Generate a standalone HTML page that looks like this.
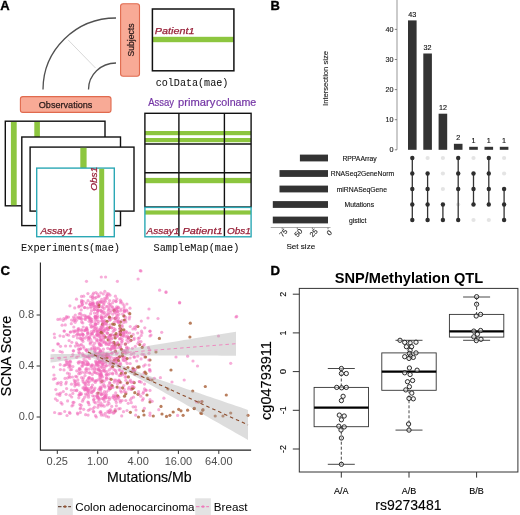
<!DOCTYPE html>
<html><head><meta charset="utf-8"><title>MultiAssayExperiment figure</title>
<style>html,body{margin:0;padding:0;background:#fff;} svg{display:block;}</style>
</head><body>
<svg width="520" height="515" viewBox="0 0 520 515">
<rect width="520" height="515" fill="#fff"/>
<text x="0.2" y="10" font-family="'Liberation Sans', Arial, sans-serif" font-weight="bold" font-size="13" stroke="#000" stroke-width="0.35">A</text>
<path d="M43 89.5 A73 71.5 0 0 1 116 18" stroke="#505050" fill="none" stroke-width="1.3"/>
<path d="M88.5 89.5 A27.5 26.5 0 0 1 116 63" stroke="#505050" fill="none" stroke-width="1.3"/>
<line x1="68" y1="39.8" x2="95.5" y2="68" stroke="#d3d3d3" stroke-width="0.9"/>
<rect x="20.4" y="96.6" width="90.6" height="15.8" rx="2.5" fill="#F8AA96" stroke="#E06A4E" stroke-width="1.1"/>
<text x="65.6" y="108" text-anchor="middle" textLength="53.6" lengthAdjust="spacingAndGlyphs" font-family="'Liberation Sans', Arial, sans-serif" font-size="9.8" fill="#2a1a1a" stroke="#2a1a1a" stroke-width="0.25">Observations</text>
<rect x="120.6" y="3.8" width="18.9" height="72.5" rx="2.5" fill="#F8AA96" stroke="#E06A4E" stroke-width="1.1"/>
<text transform="translate(133.6,40) rotate(-90)" text-anchor="middle" textLength="32.8" lengthAdjust="spacingAndGlyphs" font-family="'Liberation Sans', Arial, sans-serif" font-size="9.8" fill="#2a1a1a" stroke="#2a1a1a" stroke-width="0.25">Subjects</text>
<rect x="152.5" y="36.8" width="81.2" height="5.4" fill="#8DC63F"/>
<rect x="152.4" y="9" width="81.5" height="61.8" fill="none" stroke="#111" stroke-width="1.5"/>
<text x="154.8" y="34" textLength="39.6" lengthAdjust="spacingAndGlyphs" font-family="'Liberation Sans', Arial, sans-serif" font-style="italic" font-size="9.5" fill="#982038" stroke="#982038" stroke-width="0.25">Patient1</text>
<text x="155.7" y="86" textLength="72.6" lengthAdjust="spacingAndGlyphs" font-family="'Liberation Mono', monospace" font-size="10" fill="#111" stroke="#111" stroke-width="0.05">colData(mae)</text>
<text x="148.2" y="105.8" textLength="25.75" lengthAdjust="spacingAndGlyphs" font-family="'Liberation Sans', Arial, sans-serif" font-size="10.2" fill="#7435A5" stroke="#7435A5" stroke-width="0.2">Assay</text>
<text x="178.1" y="105.8" textLength="37.2" lengthAdjust="spacingAndGlyphs" font-family="'Liberation Sans', Arial, sans-serif" font-size="10.2" fill="#7435A5" stroke="#7435A5" stroke-width="0.2">primary</text>
<text x="216" y="105.8" textLength="40.3" lengthAdjust="spacingAndGlyphs" font-family="'Liberation Sans', Arial, sans-serif" font-size="10.2" fill="#7435A5" stroke="#7435A5" stroke-width="0.2">colname</text>
<rect x="145" y="131" width="106" height="4.2" fill="#8DC63F"/>
<rect x="145" y="138" width="106" height="4.2" fill="#8DC63F"/>
<rect x="145" y="177.9" width="106" height="5.3" fill="#8DC63F"/>
<rect x="145" y="210.4" width="106" height="4.2" fill="#8DC63F"/>
<rect x="144.9" y="113.3" width="106.2" height="93.7" fill="none" stroke="#111" stroke-width="1.4"/>
<line x1="144.9" y1="144" x2="251.1" y2="144" stroke="#111" stroke-width="1.4"/>
<line x1="144.9" y1="172.7" x2="251.1" y2="172.7" stroke="#111" stroke-width="1.4"/>
<line x1="178.9" y1="113.3" x2="178.9" y2="236.7" stroke="#111" stroke-width="1.4"/>
<line x1="224.4" y1="113.3" x2="224.4" y2="236.7" stroke="#111" stroke-width="1.4"/>
<rect x="144.9" y="207.4" width="106.2" height="29.4" fill="none" stroke="#2BA8B5" stroke-width="1.4"/>
<text x="146.5" y="234.2" textLength="32.8" lengthAdjust="spacingAndGlyphs" font-family="'Liberation Sans', Arial, sans-serif" font-style="italic" font-size="9.5" fill="#982038" stroke="#982038" stroke-width="0.25">Assay1</text>
<text x="182.4" y="234.2" textLength="40.2" lengthAdjust="spacingAndGlyphs" font-family="'Liberation Sans', Arial, sans-serif" font-style="italic" font-size="9.5" fill="#982038" stroke="#982038" stroke-width="0.25">Patient1</text>
<text x="227" y="234.2" textLength="23.9" lengthAdjust="spacingAndGlyphs" font-family="'Liberation Sans', Arial, sans-serif" font-style="italic" font-size="9.5" fill="#982038" stroke="#982038" stroke-width="0.25">Obs1</text>
<text x="153.6" y="250.8" textLength="85.7" lengthAdjust="spacingAndGlyphs" font-family="'Liberation Mono', monospace" font-size="10" fill="#111" stroke="#111" stroke-width="0.05">SampleMap(mae)</text>
<rect x="5.3" y="121.2" width="99.7" height="84.6" fill="#fff" stroke="#111" stroke-width="1.4"/>
<rect x="10.9" y="122" width="5.8" height="83.2" fill="#8DC63F"/>
<rect x="34.3" y="122" width="5.6" height="16" fill="#8DC63F"/>
<rect x="21.8" y="137" width="98.7" height="88.6" fill="#fff" stroke="#111" stroke-width="1.4"/>
<rect x="30.1" y="147.1" width="103.9" height="64" fill="#fff" stroke="#111" stroke-width="1.4"/>
<rect x="80.3" y="147.8" width="6.3" height="21" fill="#8DC63F"/>
<rect x="36.7" y="168.1" width="77.6" height="68.6" fill="#fff" stroke="#2BA8B5" stroke-width="1.4"/>
<rect x="99.2" y="168.8" width="5" height="67.2" fill="#8DC63F"/>
<text transform="translate(96.6,190.8) rotate(-90)" textLength="23.9" lengthAdjust="spacingAndGlyphs" font-family="'Liberation Sans', Arial, sans-serif" font-style="italic" font-size="9.5" fill="#982038" stroke="#982038" stroke-width="0.25">Obs1</text>
<text x="40.4" y="234.2" textLength="32.8" lengthAdjust="spacingAndGlyphs" font-family="'Liberation Sans', Arial, sans-serif" font-style="italic" font-size="9.5" fill="#982038" stroke="#982038" stroke-width="0.25">Assay1</text>
<text x="21" y="250.9" textLength="99" lengthAdjust="spacingAndGlyphs" font-family="'Liberation Mono', monospace" font-size="10" fill="#111" stroke="#111" stroke-width="0.05">Experiments(mae)</text>
<text x="270.6" y="10" font-family="'Liberation Sans', Arial, sans-serif" font-weight="bold" font-size="13" stroke="#000" stroke-width="0.35">B</text>
<line x1="397" y1="0" x2="397" y2="149.8" stroke="#a0a0a0" stroke-width="1.1"/>
<line x1="394.8" y1="149.8" x2="397" y2="149.8" stroke="#666" stroke-width="0.8"/>
<text x="393.5" y="152.3" text-anchor="end" font-family="'Liberation Sans', Arial, sans-serif" font-size="7.2" fill="#222" stroke="#222" stroke-width="0.15">0</text>
<line x1="394.8" y1="119.7" x2="397" y2="119.7" stroke="#666" stroke-width="0.8"/>
<text x="393.5" y="122.2" text-anchor="end" font-family="'Liberation Sans', Arial, sans-serif" font-size="7.2" fill="#222" stroke="#222" stroke-width="0.15">10</text>
<line x1="394.8" y1="89.6" x2="397" y2="89.6" stroke="#666" stroke-width="0.8"/>
<text x="393.5" y="92.1" text-anchor="end" font-family="'Liberation Sans', Arial, sans-serif" font-size="7.2" fill="#222" stroke="#222" stroke-width="0.15">20</text>
<line x1="394.8" y1="59.5" x2="397" y2="59.5" stroke="#666" stroke-width="0.8"/>
<text x="393.5" y="62.0" text-anchor="end" font-family="'Liberation Sans', Arial, sans-serif" font-size="7.2" fill="#222" stroke="#222" stroke-width="0.15">30</text>
<line x1="394.8" y1="29.4" x2="397" y2="29.4" stroke="#666" stroke-width="0.8"/>
<text x="393.5" y="31.9" text-anchor="end" font-family="'Liberation Sans', Arial, sans-serif" font-size="7.2" fill="#222" stroke="#222" stroke-width="0.15">40</text>
<text transform="translate(327.5,78.5) rotate(-90)" text-anchor="middle" font-family="'Liberation Sans', Arial, sans-serif" font-size="7.6" fill="#222" stroke="#222" stroke-width="0.12">Intersection size</text>
<rect x="408.0" y="20.4" width="8.6" height="129.4" fill="#333"/>
<text x="412.3" y="16.8" text-anchor="middle" font-family="'Liberation Sans', Arial, sans-serif" font-size="7.2" fill="#111" stroke="#111" stroke-width="0.15">43</text>
<rect x="423.3" y="53.5" width="8.6" height="96.3" fill="#333"/>
<text x="427.6" y="49.9" text-anchor="middle" font-family="'Liberation Sans', Arial, sans-serif" font-size="7.2" fill="#111" stroke="#111" stroke-width="0.15">32</text>
<rect x="438.6" y="113.7" width="8.6" height="36.1" fill="#333"/>
<text x="442.9" y="110.1" text-anchor="middle" font-family="'Liberation Sans', Arial, sans-serif" font-size="7.2" fill="#111" stroke="#111" stroke-width="0.15">12</text>
<rect x="453.9" y="143.8" width="8.6" height="6.0" fill="#333"/>
<text x="458.2" y="140.2" text-anchor="middle" font-family="'Liberation Sans', Arial, sans-serif" font-size="7.2" fill="#111" stroke="#111" stroke-width="0.15">2</text>
<rect x="469.2" y="146.8" width="8.6" height="3.0" fill="#333"/>
<text x="473.5" y="143.2" text-anchor="middle" font-family="'Liberation Sans', Arial, sans-serif" font-size="7.2" fill="#111" stroke="#111" stroke-width="0.15">1</text>
<rect x="484.5" y="146.8" width="8.6" height="3.0" fill="#333"/>
<text x="488.8" y="143.2" text-anchor="middle" font-family="'Liberation Sans', Arial, sans-serif" font-size="7.2" fill="#111" stroke="#111" stroke-width="0.15">1</text>
<rect x="499.8" y="146.8" width="8.6" height="3.0" fill="#333"/>
<text x="504.1" y="143.2" text-anchor="middle" font-family="'Liberation Sans', Arial, sans-serif" font-size="7.2" fill="#111" stroke="#111" stroke-width="0.15">1</text>
<line x1="412.3" y1="158" x2="412.3" y2="220" stroke="#333" stroke-width="1.3"/>
<circle cx="412.3" cy="158" r="2.2" fill="#2e2e2e"/>
<circle cx="412.3" cy="173.5" r="2.2" fill="#2e2e2e"/>
<circle cx="412.3" cy="189" r="2.2" fill="#2e2e2e"/>
<circle cx="412.3" cy="204.5" r="2.2" fill="#2e2e2e"/>
<circle cx="412.3" cy="220" r="2.2" fill="#2e2e2e"/>
<circle cx="427.6" cy="158" r="2.1" fill="#e4e4e4"/>
<line x1="427.6" y1="173.5" x2="427.6" y2="220" stroke="#333" stroke-width="1.3"/>
<circle cx="427.6" cy="173.5" r="2.2" fill="#2e2e2e"/>
<circle cx="427.6" cy="189" r="2.2" fill="#2e2e2e"/>
<circle cx="427.6" cy="204.5" r="2.2" fill="#2e2e2e"/>
<circle cx="427.6" cy="220" r="2.2" fill="#2e2e2e"/>
<circle cx="442.9" cy="158" r="2.1" fill="#e4e4e4"/>
<circle cx="442.9" cy="173.5" r="2.1" fill="#e4e4e4"/>
<circle cx="442.9" cy="189" r="2.1" fill="#e4e4e4"/>
<line x1="442.9" y1="204.5" x2="442.9" y2="220" stroke="#333" stroke-width="1.3"/>
<circle cx="442.9" cy="204.5" r="2.2" fill="#2e2e2e"/>
<circle cx="442.9" cy="220" r="2.2" fill="#2e2e2e"/>
<circle cx="458.2" cy="204.5" r="2.1" fill="#e4e4e4"/>
<line x1="458.2" y1="158" x2="458.2" y2="220" stroke="#333" stroke-width="1.3"/>
<circle cx="458.2" cy="158" r="2.2" fill="#2e2e2e"/>
<circle cx="458.2" cy="173.5" r="2.2" fill="#2e2e2e"/>
<circle cx="458.2" cy="189" r="2.2" fill="#2e2e2e"/>
<circle cx="458.2" cy="220" r="2.2" fill="#2e2e2e"/>
<circle cx="473.5" cy="158" r="2.1" fill="#e4e4e4"/>
<circle cx="473.5" cy="220" r="2.1" fill="#e4e4e4"/>
<line x1="473.5" y1="173.5" x2="473.5" y2="204.5" stroke="#333" stroke-width="1.3"/>
<circle cx="473.5" cy="173.5" r="2.2" fill="#2e2e2e"/>
<circle cx="473.5" cy="189" r="2.2" fill="#2e2e2e"/>
<circle cx="473.5" cy="204.5" r="2.2" fill="#2e2e2e"/>
<circle cx="488.8" cy="220" r="2.1" fill="#e4e4e4"/>
<line x1="488.8" y1="158" x2="488.8" y2="204.5" stroke="#333" stroke-width="1.3"/>
<circle cx="488.8" cy="158" r="2.2" fill="#2e2e2e"/>
<circle cx="488.8" cy="173.5" r="2.2" fill="#2e2e2e"/>
<circle cx="488.8" cy="189" r="2.2" fill="#2e2e2e"/>
<circle cx="488.8" cy="204.5" r="2.2" fill="#2e2e2e"/>
<circle cx="504.1" cy="158" r="2.1" fill="#e4e4e4"/>
<circle cx="504.1" cy="173.5" r="2.1" fill="#e4e4e4"/>
<line x1="504.1" y1="189" x2="504.1" y2="220" stroke="#333" stroke-width="1.3"/>
<circle cx="504.1" cy="189" r="2.2" fill="#2e2e2e"/>
<circle cx="504.1" cy="204.5" r="2.2" fill="#2e2e2e"/>
<circle cx="504.1" cy="220" r="2.2" fill="#2e2e2e"/>
<rect x="299.9" y="154.6" width="28.1" height="6.8" fill="#333"/>
<text x="359.5" y="160.6" text-anchor="middle" font-family="'Liberation Sans', Arial, sans-serif" font-size="6.8" fill="#111" stroke="#111" stroke-width="0.12">RPPAArray</text>
<rect x="279.5" y="170.1" width="48.5" height="6.8" fill="#333"/>
<text x="362.5" y="176.1" text-anchor="middle" font-family="'Liberation Sans', Arial, sans-serif" font-size="6.8" fill="#111" stroke="#111" stroke-width="0.12">RNASeq2GeneNorm</text>
<rect x="279.5" y="185.6" width="48.5" height="6.8" fill="#333"/>
<text x="361.8" y="191.6" text-anchor="middle" font-family="'Liberation Sans', Arial, sans-serif" font-size="6.8" fill="#111" stroke="#111" stroke-width="0.12">miRNASeqGene</text>
<rect x="272.8" y="201.1" width="55.2" height="6.8" fill="#333"/>
<text x="359.3" y="207.1" text-anchor="middle" font-family="'Liberation Sans', Arial, sans-serif" font-size="6.8" fill="#111" stroke="#111" stroke-width="0.12">Mutations</text>
<rect x="272.8" y="216.6" width="55.2" height="6.8" fill="#333"/>
<text x="357.6" y="222.6" text-anchor="middle" font-family="'Liberation Sans', Arial, sans-serif" font-size="6.8" fill="#111" stroke="#111" stroke-width="0.12">gistict</text>
<line x1="270.7" y1="227.5" x2="330.5" y2="227.5" stroke="#aaa" stroke-width="1.2"/>
<line x1="282.2" y1="227.5" x2="282.2" y2="229.3" stroke="#666" stroke-width="0.8"/>
<text transform="translate(285.2,234.6) rotate(-48)" text-anchor="middle" font-family="'Liberation Sans', Arial, sans-serif" font-size="7.2" fill="#222" stroke="#222" stroke-width="0.12">75</text>
<line x1="297.3" y1="227.5" x2="297.3" y2="229.3" stroke="#666" stroke-width="0.8"/>
<text transform="translate(300.3,234.6) rotate(-48)" text-anchor="middle" font-family="'Liberation Sans', Arial, sans-serif" font-size="7.2" fill="#222" stroke="#222" stroke-width="0.12">50</text>
<line x1="312.4" y1="227.5" x2="312.4" y2="229.3" stroke="#666" stroke-width="0.8"/>
<text transform="translate(315.4,234.6) rotate(-48)" text-anchor="middle" font-family="'Liberation Sans', Arial, sans-serif" font-size="7.2" fill="#222" stroke="#222" stroke-width="0.12">25</text>
<line x1="328" y1="227.5" x2="328" y2="229.3" stroke="#666" stroke-width="0.8"/>
<text transform="translate(331.0,234.6) rotate(-48)" text-anchor="middle" font-family="'Liberation Sans', Arial, sans-serif" font-size="7.2" fill="#222" stroke="#222" stroke-width="0.12">0</text>
<text x="300.8" y="249.2" text-anchor="middle" font-family="'Liberation Sans', Arial, sans-serif" font-size="8.1" fill="#111" stroke="#111" stroke-width="0.12">Set size</text>
<text x="0.4" y="275.4" font-family="'Liberation Sans', Arial, sans-serif" font-weight="bold" font-size="13.2" stroke="#000" stroke-width="0.35">C</text>
<g>
<circle cx="92.5" cy="385.0" r="1.6" fill="#F06ABA" fill-opacity="0.55"/>
<circle cx="88.4" cy="357.0" r="1.6" fill="#F06ABA" fill-opacity="0.55"/>
<circle cx="97.9" cy="353.1" r="1.6" fill="#F06ABA" fill-opacity="0.55"/>
<circle cx="69.3" cy="376.3" r="1.6" fill="#F06ABA" fill-opacity="0.55"/>
<circle cx="114.7" cy="309.3" r="1.6" fill="#F06ABA" fill-opacity="0.55"/>
<circle cx="106.5" cy="315.2" r="1.6" fill="#F06ABA" fill-opacity="0.55"/>
<circle cx="108.1" cy="401.7" r="1.6" fill="#F06ABA" fill-opacity="0.55"/>
<circle cx="102.8" cy="376.8" r="1.6" fill="#F06ABA" fill-opacity="0.55"/>
<circle cx="105.4" cy="413.3" r="1.6" fill="#F06ABA" fill-opacity="0.55"/>
<circle cx="70.4" cy="346.0" r="1.6" fill="#F06ABA" fill-opacity="0.55"/>
<circle cx="57.2" cy="383.7" r="1.6" fill="#F06ABA" fill-opacity="0.55"/>
<circle cx="166.5" cy="416.4" r="1.6" fill="#A85E35" fill-opacity="0.8"/>
<circle cx="112.8" cy="314.2" r="1.6" fill="#F06ABA" fill-opacity="0.55"/>
<circle cx="106.3" cy="360.6" r="1.6" fill="#F06ABA" fill-opacity="0.55"/>
<circle cx="120.6" cy="332.0" r="1.6" fill="#A85E35" fill-opacity="0.8"/>
<circle cx="93.0" cy="408.6" r="1.6" fill="#F06ABA" fill-opacity="0.55"/>
<circle cx="124.8" cy="351.8" r="1.6" fill="#F06ABA" fill-opacity="0.55"/>
<circle cx="79.2" cy="306.1" r="1.6" fill="#F06ABA" fill-opacity="0.55"/>
<circle cx="64.1" cy="331.0" r="1.6" fill="#F06ABA" fill-opacity="0.55"/>
<circle cx="120.0" cy="400.4" r="1.6" fill="#F06ABA" fill-opacity="0.55"/>
<circle cx="100.8" cy="344.8" r="1.6" fill="#F06ABA" fill-opacity="0.55"/>
<circle cx="96.3" cy="362.2" r="1.6" fill="#F06ABA" fill-opacity="0.55"/>
<circle cx="100.6" cy="340.3" r="1.6" fill="#F06ABA" fill-opacity="0.55"/>
<circle cx="106.3" cy="375.0" r="1.6" fill="#F06ABA" fill-opacity="0.55"/>
<circle cx="76.4" cy="342.9" r="1.6" fill="#F06ABA" fill-opacity="0.55"/>
<circle cx="100.1" cy="412.2" r="1.6" fill="#F06ABA" fill-opacity="0.55"/>
<circle cx="93.1" cy="345.5" r="1.6" fill="#F06ABA" fill-opacity="0.55"/>
<circle cx="101.0" cy="382.7" r="1.6" fill="#F06ABA" fill-opacity="0.55"/>
<circle cx="115.9" cy="380.2" r="1.6" fill="#F06ABA" fill-opacity="0.55"/>
<circle cx="115.3" cy="329.6" r="1.6" fill="#F06ABA" fill-opacity="0.55"/>
<circle cx="96.7" cy="334.6" r="1.6" fill="#F06ABA" fill-opacity="0.55"/>
<circle cx="100.0" cy="379.0" r="1.6" fill="#F06ABA" fill-opacity="0.55"/>
<circle cx="150.0" cy="331.1" r="1.6" fill="#F06ABA" fill-opacity="0.55"/>
<circle cx="86.1" cy="389.4" r="1.6" fill="#F06ABA" fill-opacity="0.55"/>
<circle cx="115.4" cy="308.9" r="1.6" fill="#F06ABA" fill-opacity="0.55"/>
<circle cx="117.7" cy="398.6" r="1.6" fill="#F06ABA" fill-opacity="0.55"/>
<circle cx="142.0" cy="333.0" r="1.6" fill="#F06ABA" fill-opacity="0.55"/>
<circle cx="124.2" cy="316.1" r="1.6" fill="#F06ABA" fill-opacity="0.55"/>
<circle cx="92.7" cy="303.7" r="1.6" fill="#F06ABA" fill-opacity="0.55"/>
<circle cx="86.8" cy="329.9" r="1.6" fill="#F06ABA" fill-opacity="0.55"/>
<circle cx="109.7" cy="378.8" r="1.6" fill="#F06ABA" fill-opacity="0.55"/>
<circle cx="171.0" cy="370.0" r="1.6" fill="#A85E35" fill-opacity="0.8"/>
<circle cx="123.6" cy="332.7" r="1.6" fill="#F06ABA" fill-opacity="0.55"/>
<circle cx="116.0" cy="397.8" r="1.6" fill="#F06ABA" fill-opacity="0.55"/>
<circle cx="120.8" cy="382.6" r="1.6" fill="#F06ABA" fill-opacity="0.55"/>
<circle cx="63.5" cy="336.4" r="1.6" fill="#F06ABA" fill-opacity="0.55"/>
<circle cx="98.2" cy="404.8" r="1.6" fill="#F06ABA" fill-opacity="0.55"/>
<circle cx="77.4" cy="344.3" r="1.6" fill="#F06ABA" fill-opacity="0.55"/>
<circle cx="121.8" cy="371.8" r="1.6" fill="#F06ABA" fill-opacity="0.55"/>
<circle cx="119.5" cy="338.9" r="1.6" fill="#F06ABA" fill-opacity="0.55"/>
<circle cx="108.5" cy="309.5" r="1.6" fill="#F06ABA" fill-opacity="0.55"/>
<circle cx="98.0" cy="362.0" r="1.6" fill="#F06ABA" fill-opacity="0.55"/>
<circle cx="104.3" cy="320.9" r="1.6" fill="#F06ABA" fill-opacity="0.55"/>
<circle cx="107.4" cy="337.9" r="1.6" fill="#F06ABA" fill-opacity="0.55"/>
<circle cx="99.5" cy="399.4" r="1.6" fill="#F06ABA" fill-opacity="0.55"/>
<circle cx="72.8" cy="393.4" r="1.6" fill="#F06ABA" fill-opacity="0.55"/>
<circle cx="134.2" cy="382.7" r="1.6" fill="#A85E35" fill-opacity="0.8"/>
<circle cx="146.0" cy="390.4" r="1.6" fill="#F06ABA" fill-opacity="0.55"/>
<circle cx="93.5" cy="411.3" r="1.6" fill="#F06ABA" fill-opacity="0.55"/>
<circle cx="99.8" cy="375.7" r="1.6" fill="#F06ABA" fill-opacity="0.55"/>
<circle cx="150.0" cy="399.7" r="1.6" fill="#F06ABA" fill-opacity="0.55"/>
<circle cx="139.5" cy="381.7" r="1.6" fill="#F06ABA" fill-opacity="0.55"/>
<circle cx="103.1" cy="393.6" r="1.6" fill="#F06ABA" fill-opacity="0.55"/>
<circle cx="100.6" cy="351.5" r="1.6" fill="#F06ABA" fill-opacity="0.55"/>
<circle cx="109.8" cy="318.7" r="1.6" fill="#F06ABA" fill-opacity="0.55"/>
<circle cx="117.5" cy="384.0" r="1.6" fill="#F06ABA" fill-opacity="0.55"/>
<circle cx="106.6" cy="391.9" r="1.6" fill="#F06ABA" fill-opacity="0.55"/>
<circle cx="143.3" cy="410.8" r="1.6" fill="#A85E35" fill-opacity="0.8"/>
<circle cx="124.2" cy="389.2" r="1.6" fill="#F06ABA" fill-opacity="0.55"/>
<circle cx="104.2" cy="335.6" r="1.6" fill="#F06ABA" fill-opacity="0.55"/>
<circle cx="127.0" cy="383.6" r="1.6" fill="#F06ABA" fill-opacity="0.55"/>
<circle cx="76.5" cy="320.3" r="1.6" fill="#F06ABA" fill-opacity="0.55"/>
<circle cx="109.5" cy="410.6" r="1.6" fill="#F06ABA" fill-opacity="0.55"/>
<circle cx="101.4" cy="394.8" r="1.6" fill="#F06ABA" fill-opacity="0.55"/>
<circle cx="80.3" cy="334.9" r="1.6" fill="#F06ABA" fill-opacity="0.55"/>
<circle cx="108.7" cy="314.3" r="1.6" fill="#F06ABA" fill-opacity="0.55"/>
<circle cx="58.4" cy="344.0" r="1.6" fill="#F06ABA" fill-opacity="0.55"/>
<circle cx="61.0" cy="384.7" r="1.6" fill="#F06ABA" fill-opacity="0.55"/>
<circle cx="107.5" cy="333.4" r="1.6" fill="#F06ABA" fill-opacity="0.55"/>
<circle cx="120.4" cy="402.2" r="1.6" fill="#F06ABA" fill-opacity="0.55"/>
<circle cx="141.0" cy="341.6" r="1.6" fill="#F06ABA" fill-opacity="0.55"/>
<circle cx="123.9" cy="360.5" r="1.6" fill="#F06ABA" fill-opacity="0.55"/>
<circle cx="80.1" cy="394.2" r="1.6" fill="#F06ABA" fill-opacity="0.55"/>
<circle cx="104.5" cy="368.5" r="1.6" fill="#F06ABA" fill-opacity="0.55"/>
<circle cx="143.1" cy="346.0" r="1.6" fill="#F06ABA" fill-opacity="0.55"/>
<circle cx="86.1" cy="360.8" r="1.6" fill="#F06ABA" fill-opacity="0.55"/>
<circle cx="99.0" cy="362.1" r="1.6" fill="#F06ABA" fill-opacity="0.55"/>
<circle cx="89.4" cy="337.7" r="1.6" fill="#F06ABA" fill-opacity="0.55"/>
<circle cx="115.7" cy="359.1" r="1.6" fill="#F06ABA" fill-opacity="0.55"/>
<circle cx="134.0" cy="387.3" r="1.6" fill="#F06ABA" fill-opacity="0.55"/>
<circle cx="97.6" cy="395.8" r="1.6" fill="#F06ABA" fill-opacity="0.55"/>
<circle cx="83.4" cy="363.1" r="1.6" fill="#F06ABA" fill-opacity="0.55"/>
<circle cx="95.4" cy="402.8" r="1.6" fill="#F06ABA" fill-opacity="0.55"/>
<circle cx="102.3" cy="318.8" r="1.6" fill="#F06ABA" fill-opacity="0.55"/>
<circle cx="101.0" cy="355.1" r="1.6" fill="#F06ABA" fill-opacity="0.55"/>
<circle cx="57.7" cy="343.9" r="1.6" fill="#F06ABA" fill-opacity="0.55"/>
<circle cx="120.6" cy="348.0" r="1.6" fill="#F06ABA" fill-opacity="0.55"/>
<circle cx="95.8" cy="354.5" r="1.6" fill="#F06ABA" fill-opacity="0.55"/>
<circle cx="104.7" cy="396.5" r="1.6" fill="#F06ABA" fill-opacity="0.55"/>
<circle cx="111.7" cy="348.4" r="1.6" fill="#F06ABA" fill-opacity="0.55"/>
<circle cx="95.5" cy="415.7" r="1.6" fill="#F06ABA" fill-opacity="0.55"/>
<circle cx="73.8" cy="320.8" r="1.6" fill="#F06ABA" fill-opacity="0.55"/>
<circle cx="86.4" cy="388.2" r="1.6" fill="#F06ABA" fill-opacity="0.55"/>
<circle cx="68.5" cy="335.2" r="1.6" fill="#F06ABA" fill-opacity="0.55"/>
<circle cx="101.2" cy="388.8" r="1.6" fill="#F06ABA" fill-opacity="0.55"/>
<circle cx="87.9" cy="402.1" r="1.6" fill="#F06ABA" fill-opacity="0.55"/>
<circle cx="97.6" cy="315.7" r="1.6" fill="#F06ABA" fill-opacity="0.55"/>
<circle cx="81.5" cy="330.7" r="1.6" fill="#F06ABA" fill-opacity="0.55"/>
<circle cx="124.7" cy="311.8" r="1.6" fill="#F06ABA" fill-opacity="0.55"/>
<circle cx="98.7" cy="355.1" r="1.6" fill="#F06ABA" fill-opacity="0.55"/>
<circle cx="80.5" cy="349.0" r="1.6" fill="#F06ABA" fill-opacity="0.55"/>
<circle cx="98.5" cy="369.9" r="1.6" fill="#F06ABA" fill-opacity="0.55"/>
<circle cx="88.8" cy="394.9" r="1.6" fill="#F06ABA" fill-opacity="0.55"/>
<circle cx="114.2" cy="360.2" r="1.6" fill="#A85E35" fill-opacity="0.8"/>
<circle cx="132.7" cy="368.1" r="1.6" fill="#F06ABA" fill-opacity="0.55"/>
<circle cx="100.2" cy="337.4" r="1.6" fill="#F06ABA" fill-opacity="0.55"/>
<circle cx="105.2" cy="396.0" r="1.6" fill="#F06ABA" fill-opacity="0.55"/>
<circle cx="92.8" cy="325.8" r="1.6" fill="#F06ABA" fill-opacity="0.55"/>
<circle cx="98.3" cy="364.8" r="1.6" fill="#F06ABA" fill-opacity="0.55"/>
<circle cx="117.9" cy="357.6" r="1.6" fill="#F06ABA" fill-opacity="0.55"/>
<circle cx="130.0" cy="381.5" r="1.6" fill="#F06ABA" fill-opacity="0.55"/>
<circle cx="105.0" cy="358.0" r="1.6" fill="#A85E35" fill-opacity="0.8"/>
<circle cx="75.8" cy="384.6" r="1.6" fill="#F06ABA" fill-opacity="0.55"/>
<circle cx="79.2" cy="349.5" r="1.6" fill="#F06ABA" fill-opacity="0.55"/>
<circle cx="100.2" cy="387.2" r="1.6" fill="#F06ABA" fill-opacity="0.55"/>
<circle cx="97.4" cy="302.9" r="1.6" fill="#F06ABA" fill-opacity="0.55"/>
<circle cx="120.3" cy="362.9" r="1.6" fill="#F06ABA" fill-opacity="0.55"/>
<circle cx="131.8" cy="388.9" r="1.6" fill="#A85E35" fill-opacity="0.8"/>
<circle cx="141.1" cy="358.9" r="1.6" fill="#F06ABA" fill-opacity="0.55"/>
<circle cx="103.4" cy="349.2" r="1.6" fill="#F06ABA" fill-opacity="0.55"/>
<circle cx="150.0" cy="415.3" r="1.6" fill="#F06ABA" fill-opacity="0.55"/>
<circle cx="112.6" cy="302.8" r="1.6" fill="#F06ABA" fill-opacity="0.55"/>
<circle cx="100.8" cy="402.9" r="1.6" fill="#F06ABA" fill-opacity="0.55"/>
<circle cx="120.2" cy="408.6" r="1.6" fill="#F06ABA" fill-opacity="0.55"/>
<circle cx="74.7" cy="307.9" r="1.6" fill="#F06ABA" fill-opacity="0.55"/>
<circle cx="103.9" cy="330.5" r="1.6" fill="#F06ABA" fill-opacity="0.55"/>
<circle cx="135.0" cy="374.5" r="1.6" fill="#F06ABA" fill-opacity="0.55"/>
<circle cx="95.3" cy="382.4" r="1.6" fill="#F06ABA" fill-opacity="0.55"/>
<circle cx="106.6" cy="354.0" r="1.6" fill="#F06ABA" fill-opacity="0.55"/>
<circle cx="117.5" cy="343.1" r="1.6" fill="#F06ABA" fill-opacity="0.55"/>
<circle cx="78.3" cy="346.0" r="1.6" fill="#F06ABA" fill-opacity="0.55"/>
<circle cx="121.7" cy="415.9" r="1.6" fill="#F06ABA" fill-opacity="0.55"/>
<circle cx="110.0" cy="324.8" r="1.6" fill="#F06ABA" fill-opacity="0.55"/>
<circle cx="91.4" cy="304.7" r="1.6" fill="#F06ABA" fill-opacity="0.55"/>
<circle cx="108.9" cy="303.3" r="1.6" fill="#F06ABA" fill-opacity="0.55"/>
<circle cx="112.7" cy="324.1" r="1.6" fill="#A85E35" fill-opacity="0.8"/>
<circle cx="86.2" cy="303.0" r="1.6" fill="#F06ABA" fill-opacity="0.55"/>
<circle cx="77.4" cy="337.9" r="1.6" fill="#F06ABA" fill-opacity="0.55"/>
<circle cx="85.0" cy="389.8" r="1.6" fill="#F06ABA" fill-opacity="0.55"/>
<circle cx="107.7" cy="348.3" r="1.6" fill="#F06ABA" fill-opacity="0.55"/>
<circle cx="92.0" cy="321.4" r="1.6" fill="#F06ABA" fill-opacity="0.55"/>
<circle cx="106.3" cy="306.6" r="1.6" fill="#F06ABA" fill-opacity="0.55"/>
<circle cx="112.4" cy="346.1" r="1.6" fill="#F06ABA" fill-opacity="0.55"/>
<circle cx="118.4" cy="318.2" r="1.6" fill="#F06ABA" fill-opacity="0.55"/>
<circle cx="109.1" cy="403.7" r="1.6" fill="#F06ABA" fill-opacity="0.55"/>
<circle cx="119.2" cy="364.3" r="1.6" fill="#F06ABA" fill-opacity="0.55"/>
<circle cx="65.6" cy="346.0" r="1.6" fill="#F06ABA" fill-opacity="0.55"/>
<circle cx="138.0" cy="394.3" r="1.6" fill="#A85E35" fill-opacity="0.8"/>
<circle cx="132.2" cy="386.6" r="1.6" fill="#F06ABA" fill-opacity="0.55"/>
<circle cx="81.2" cy="309.9" r="1.6" fill="#F06ABA" fill-opacity="0.55"/>
<circle cx="81.1" cy="318.6" r="1.6" fill="#F06ABA" fill-opacity="0.55"/>
<circle cx="128.4" cy="337.8" r="1.6" fill="#A85E35" fill-opacity="0.8"/>
<circle cx="83.2" cy="327.0" r="1.6" fill="#F06ABA" fill-opacity="0.55"/>
<circle cx="130.3" cy="399.9" r="1.6" fill="#F06ABA" fill-opacity="0.55"/>
<circle cx="107.5" cy="327.5" r="1.6" fill="#F06ABA" fill-opacity="0.55"/>
<circle cx="84.6" cy="389.8" r="1.6" fill="#F06ABA" fill-opacity="0.55"/>
<circle cx="99.4" cy="360.9" r="1.6" fill="#F06ABA" fill-opacity="0.55"/>
<circle cx="67.5" cy="373.2" r="1.6" fill="#F06ABA" fill-opacity="0.55"/>
<circle cx="126.9" cy="304.0" r="1.6" fill="#F06ABA" fill-opacity="0.55"/>
<circle cx="65.3" cy="364.9" r="1.6" fill="#F06ABA" fill-opacity="0.55"/>
<circle cx="99.7" cy="353.5" r="1.6" fill="#F06ABA" fill-opacity="0.55"/>
<circle cx="96.3" cy="309.6" r="1.6" fill="#F06ABA" fill-opacity="0.55"/>
<circle cx="105.5" cy="301.3" r="1.6" fill="#F06ABA" fill-opacity="0.55"/>
<circle cx="58.4" cy="382.8" r="1.6" fill="#F06ABA" fill-opacity="0.55"/>
<circle cx="60.4" cy="369.6" r="1.6" fill="#F06ABA" fill-opacity="0.55"/>
<circle cx="203.0" cy="409.7" r="1.6" fill="#A85E35" fill-opacity="0.8"/>
<circle cx="78.8" cy="397.8" r="1.6" fill="#F06ABA" fill-opacity="0.55"/>
<circle cx="173.2" cy="412.0" r="1.6" fill="#A85E35" fill-opacity="0.8"/>
<circle cx="120.6" cy="310.8" r="1.6" fill="#F06ABA" fill-opacity="0.55"/>
<circle cx="103.3" cy="323.1" r="1.6" fill="#F06ABA" fill-opacity="0.55"/>
<circle cx="55.4" cy="398.8" r="1.6" fill="#F06ABA" fill-opacity="0.55"/>
<circle cx="113.6" cy="395.4" r="1.6" fill="#F06ABA" fill-opacity="0.55"/>
<circle cx="150.0" cy="371.2" r="1.6" fill="#F06ABA" fill-opacity="0.55"/>
<circle cx="94.2" cy="389.5" r="1.6" fill="#F06ABA" fill-opacity="0.55"/>
<circle cx="99.0" cy="366.3" r="1.6" fill="#F06ABA" fill-opacity="0.55"/>
<circle cx="141.0" cy="376.0" r="1.6" fill="#F06ABA" fill-opacity="0.55"/>
<circle cx="100.8" cy="411.7" r="1.6" fill="#F06ABA" fill-opacity="0.55"/>
<circle cx="98.6" cy="398.6" r="1.6" fill="#F06ABA" fill-opacity="0.55"/>
<circle cx="94.3" cy="309.6" r="1.6" fill="#F06ABA" fill-opacity="0.55"/>
<circle cx="140.3" cy="270.7" r="1.6" fill="#F06ABA" fill-opacity="0.55"/>
<circle cx="124.5" cy="396.2" r="1.6" fill="#A85E35" fill-opacity="0.8"/>
<circle cx="101.9" cy="329.5" r="1.6" fill="#F06ABA" fill-opacity="0.55"/>
<circle cx="104.3" cy="300.5" r="1.6" fill="#F06ABA" fill-opacity="0.55"/>
<circle cx="120.2" cy="328.3" r="1.6" fill="#A85E35" fill-opacity="0.8"/>
<circle cx="85.1" cy="330.0" r="1.6" fill="#F06ABA" fill-opacity="0.55"/>
<circle cx="102.5" cy="404.9" r="1.6" fill="#F06ABA" fill-opacity="0.55"/>
<circle cx="87.7" cy="363.1" r="1.6" fill="#F06ABA" fill-opacity="0.55"/>
<circle cx="91.0" cy="348.9" r="1.6" fill="#F06ABA" fill-opacity="0.55"/>
<circle cx="101.7" cy="317.6" r="1.6" fill="#F06ABA" fill-opacity="0.55"/>
<circle cx="132.4" cy="348.3" r="1.6" fill="#F06ABA" fill-opacity="0.55"/>
<circle cx="100.2" cy="370.5" r="1.6" fill="#F06ABA" fill-opacity="0.55"/>
<circle cx="108.7" cy="293.9" r="1.6" fill="#F06ABA" fill-opacity="0.55"/>
<circle cx="126.6" cy="310.8" r="1.6" fill="#F06ABA" fill-opacity="0.55"/>
<circle cx="102.7" cy="342.3" r="1.6" fill="#F06ABA" fill-opacity="0.55"/>
<circle cx="86.8" cy="364.8" r="1.6" fill="#F06ABA" fill-opacity="0.55"/>
<circle cx="108.2" cy="329.4" r="1.6" fill="#F06ABA" fill-opacity="0.55"/>
<circle cx="128.2" cy="403.3" r="1.6" fill="#F06ABA" fill-opacity="0.55"/>
<circle cx="70.0" cy="413.3" r="1.6" fill="#F06ABA" fill-opacity="0.55"/>
<circle cx="144.0" cy="372.9" r="1.6" fill="#F06ABA" fill-opacity="0.55"/>
<circle cx="89.6" cy="358.5" r="1.6" fill="#F06ABA" fill-opacity="0.55"/>
<circle cx="103.2" cy="364.8" r="1.6" fill="#F06ABA" fill-opacity="0.55"/>
<circle cx="112.4" cy="386.0" r="1.6" fill="#F06ABA" fill-opacity="0.55"/>
<circle cx="94.2" cy="402.0" r="1.6" fill="#F06ABA" fill-opacity="0.55"/>
<circle cx="123.6" cy="333.9" r="1.6" fill="#F06ABA" fill-opacity="0.55"/>
<circle cx="106.1" cy="344.2" r="1.6" fill="#F06ABA" fill-opacity="0.55"/>
<circle cx="96.9" cy="313.3" r="1.6" fill="#F06ABA" fill-opacity="0.55"/>
<circle cx="123.8" cy="385.6" r="1.6" fill="#F06ABA" fill-opacity="0.55"/>
<circle cx="115.2" cy="318.3" r="1.6" fill="#A85E35" fill-opacity="0.8"/>
<circle cx="79.4" cy="368.4" r="1.6" fill="#F06ABA" fill-opacity="0.55"/>
<circle cx="97.5" cy="373.4" r="1.6" fill="#F06ABA" fill-opacity="0.55"/>
<circle cx="103.4" cy="339.2" r="1.6" fill="#F06ABA" fill-opacity="0.55"/>
<circle cx="106.5" cy="378.2" r="1.6" fill="#F06ABA" fill-opacity="0.55"/>
<circle cx="189.9" cy="337.0" r="1.6" fill="#A85E35" fill-opacity="0.8"/>
<circle cx="91.8" cy="364.8" r="1.6" fill="#F06ABA" fill-opacity="0.55"/>
<circle cx="101.0" cy="371.4" r="1.6" fill="#F06ABA" fill-opacity="0.55"/>
<circle cx="88.1" cy="415.1" r="1.6" fill="#F06ABA" fill-opacity="0.55"/>
<circle cx="123.9" cy="315.9" r="1.6" fill="#A85E35" fill-opacity="0.8"/>
<circle cx="100.6" cy="374.6" r="1.6" fill="#F06ABA" fill-opacity="0.55"/>
<circle cx="125.8" cy="400.5" r="1.6" fill="#F06ABA" fill-opacity="0.55"/>
<circle cx="177.6" cy="415.4" r="1.6" fill="#F06ABA" fill-opacity="0.55"/>
<circle cx="103.5" cy="384.3" r="1.6" fill="#F06ABA" fill-opacity="0.55"/>
<circle cx="113.4" cy="345.5" r="1.6" fill="#F06ABA" fill-opacity="0.55"/>
<circle cx="125.0" cy="357.4" r="1.6" fill="#F06ABA" fill-opacity="0.55"/>
<circle cx="123.9" cy="329.8" r="1.6" fill="#A85E35" fill-opacity="0.8"/>
<circle cx="94.0" cy="371.9" r="1.6" fill="#F06ABA" fill-opacity="0.55"/>
<circle cx="130.1" cy="358.0" r="1.6" fill="#F06ABA" fill-opacity="0.55"/>
<circle cx="83.2" cy="301.3" r="1.6" fill="#F06ABA" fill-opacity="0.55"/>
<circle cx="160.4" cy="377.7" r="1.6" fill="#F06ABA" fill-opacity="0.55"/>
<circle cx="101.9" cy="381.2" r="1.6" fill="#A85E35" fill-opacity="0.8"/>
<circle cx="81.5" cy="377.6" r="1.6" fill="#F06ABA" fill-opacity="0.55"/>
<circle cx="148.5" cy="347.7" r="1.6" fill="#F06ABA" fill-opacity="0.55"/>
<circle cx="92.2" cy="369.0" r="1.6" fill="#F06ABA" fill-opacity="0.55"/>
<circle cx="89.8" cy="373.0" r="1.6" fill="#F06ABA" fill-opacity="0.55"/>
<circle cx="105.3" cy="323.4" r="1.6" fill="#F06ABA" fill-opacity="0.55"/>
<circle cx="102.7" cy="325.2" r="1.6" fill="#F06ABA" fill-opacity="0.55"/>
<circle cx="86.1" cy="350.0" r="1.6" fill="#F06ABA" fill-opacity="0.55"/>
<circle cx="131.0" cy="340.3" r="1.6" fill="#A85E35" fill-opacity="0.8"/>
<circle cx="146.0" cy="390.0" r="1.6" fill="#F06ABA" fill-opacity="0.55"/>
<circle cx="88.2" cy="382.0" r="1.6" fill="#F06ABA" fill-opacity="0.55"/>
<circle cx="102.1" cy="386.6" r="1.6" fill="#F06ABA" fill-opacity="0.55"/>
<circle cx="79.2" cy="318.5" r="1.6" fill="#F06ABA" fill-opacity="0.55"/>
<circle cx="121.9" cy="320.7" r="1.6" fill="#F06ABA" fill-opacity="0.55"/>
<circle cx="110.9" cy="349.6" r="1.6" fill="#F06ABA" fill-opacity="0.55"/>
<circle cx="116.0" cy="301.2" r="1.6" fill="#F06ABA" fill-opacity="0.55"/>
<circle cx="105.1" cy="320.9" r="1.6" fill="#F06ABA" fill-opacity="0.55"/>
<circle cx="126.0" cy="376.8" r="1.6" fill="#F06ABA" fill-opacity="0.55"/>
<circle cx="138.6" cy="391.7" r="1.6" fill="#F06ABA" fill-opacity="0.55"/>
<circle cx="97.1" cy="335.8" r="1.6" fill="#F06ABA" fill-opacity="0.55"/>
<circle cx="84.0" cy="388.2" r="1.6" fill="#F06ABA" fill-opacity="0.55"/>
<circle cx="97.5" cy="294.1" r="1.6" fill="#F06ABA" fill-opacity="0.55"/>
<circle cx="83.3" cy="364.8" r="1.6" fill="#F06ABA" fill-opacity="0.55"/>
<circle cx="103.4" cy="321.8" r="1.6" fill="#F06ABA" fill-opacity="0.55"/>
<circle cx="115.0" cy="312.2" r="1.6" fill="#F06ABA" fill-opacity="0.55"/>
<circle cx="122.1" cy="350.1" r="1.6" fill="#F06ABA" fill-opacity="0.55"/>
<circle cx="96.0" cy="317.4" r="1.6" fill="#F06ABA" fill-opacity="0.55"/>
<circle cx="96.6" cy="369.1" r="1.6" fill="#F06ABA" fill-opacity="0.55"/>
<circle cx="93.8" cy="331.4" r="1.6" fill="#F06ABA" fill-opacity="0.55"/>
<circle cx="87.4" cy="317.4" r="1.6" fill="#F06ABA" fill-opacity="0.55"/>
<circle cx="73.0" cy="405.0" r="1.6" fill="#F06ABA" fill-opacity="0.55"/>
<circle cx="78.7" cy="373.8" r="1.6" fill="#F06ABA" fill-opacity="0.55"/>
<circle cx="90.5" cy="302.4" r="1.6" fill="#F06ABA" fill-opacity="0.55"/>
<circle cx="125.8" cy="393.8" r="1.6" fill="#A85E35" fill-opacity="0.8"/>
<circle cx="135.4" cy="329.1" r="1.6" fill="#F06ABA" fill-opacity="0.55"/>
<circle cx="84.4" cy="315.4" r="1.6" fill="#F06ABA" fill-opacity="0.55"/>
<circle cx="112.4" cy="363.6" r="1.6" fill="#F06ABA" fill-opacity="0.55"/>
<circle cx="86.4" cy="381.7" r="1.6" fill="#F06ABA" fill-opacity="0.55"/>
<circle cx="95.8" cy="372.8" r="1.6" fill="#F06ABA" fill-opacity="0.55"/>
<circle cx="105.9" cy="363.1" r="1.6" fill="#F06ABA" fill-opacity="0.55"/>
<circle cx="118.5" cy="347.6" r="1.6" fill="#F06ABA" fill-opacity="0.55"/>
<circle cx="127.4" cy="332.9" r="1.6" fill="#F06ABA" fill-opacity="0.55"/>
<circle cx="124.0" cy="308.0" r="1.6" fill="#F06ABA" fill-opacity="0.55"/>
<circle cx="116.3" cy="317.7" r="1.6" fill="#F06ABA" fill-opacity="0.55"/>
<circle cx="201.6" cy="413.5" r="1.6" fill="#A85E35" fill-opacity="0.8"/>
<circle cx="69.5" cy="373.9" r="1.6" fill="#F06ABA" fill-opacity="0.55"/>
<circle cx="87.4" cy="364.6" r="1.6" fill="#F06ABA" fill-opacity="0.55"/>
<circle cx="78.6" cy="363.2" r="1.6" fill="#F06ABA" fill-opacity="0.55"/>
<circle cx="84.7" cy="307.5" r="1.6" fill="#F06ABA" fill-opacity="0.55"/>
<circle cx="149.4" cy="369.7" r="1.6" fill="#F06ABA" fill-opacity="0.55"/>
<circle cx="116.8" cy="310.8" r="1.6" fill="#F06ABA" fill-opacity="0.55"/>
<circle cx="65.0" cy="378.4" r="1.6" fill="#F06ABA" fill-opacity="0.55"/>
<circle cx="100.5" cy="351.0" r="1.6" fill="#F06ABA" fill-opacity="0.55"/>
<circle cx="111.0" cy="334.9" r="1.6" fill="#F06ABA" fill-opacity="0.55"/>
<circle cx="59.3" cy="393.9" r="1.6" fill="#F06ABA" fill-opacity="0.55"/>
<circle cx="150.0" cy="360.0" r="1.6" fill="#A85E35" fill-opacity="0.8"/>
<circle cx="89.1" cy="404.7" r="1.6" fill="#F06ABA" fill-opacity="0.55"/>
<circle cx="98.8" cy="389.6" r="1.6" fill="#F06ABA" fill-opacity="0.55"/>
<circle cx="133.5" cy="397.2" r="1.6" fill="#F06ABA" fill-opacity="0.55"/>
<circle cx="101.0" cy="339.7" r="1.6" fill="#F06ABA" fill-opacity="0.55"/>
<circle cx="149.0" cy="309.0" r="1.6" fill="#F06ABA" fill-opacity="0.55"/>
<circle cx="74.9" cy="383.5" r="1.6" fill="#F06ABA" fill-opacity="0.55"/>
<circle cx="133.2" cy="334.4" r="1.6" fill="#F06ABA" fill-opacity="0.55"/>
<circle cx="131.3" cy="336.3" r="1.6" fill="#A85E35" fill-opacity="0.8"/>
<circle cx="90.7" cy="390.2" r="1.6" fill="#F06ABA" fill-opacity="0.55"/>
<circle cx="87.6" cy="308.0" r="1.6" fill="#F06ABA" fill-opacity="0.55"/>
<circle cx="150.0" cy="402.0" r="1.6" fill="#A85E35" fill-opacity="0.8"/>
<circle cx="115.0" cy="411.0" r="1.6" fill="#A85E35" fill-opacity="0.8"/>
<circle cx="81.5" cy="302.5" r="1.6" fill="#F06ABA" fill-opacity="0.55"/>
<circle cx="78.4" cy="317.1" r="1.6" fill="#F06ABA" fill-opacity="0.55"/>
<circle cx="78.0" cy="329.2" r="1.6" fill="#F06ABA" fill-opacity="0.55"/>
<circle cx="94.8" cy="369.8" r="1.6" fill="#F06ABA" fill-opacity="0.55"/>
<circle cx="149.1" cy="365.1" r="1.6" fill="#F06ABA" fill-opacity="0.55"/>
<circle cx="88.9" cy="316.3" r="1.6" fill="#F06ABA" fill-opacity="0.55"/>
<circle cx="88.5" cy="378.5" r="1.6" fill="#F06ABA" fill-opacity="0.55"/>
<circle cx="104.4" cy="330.3" r="1.6" fill="#F06ABA" fill-opacity="0.55"/>
<circle cx="123.1" cy="360.1" r="1.6" fill="#F06ABA" fill-opacity="0.55"/>
<circle cx="95.7" cy="318.0" r="1.6" fill="#F06ABA" fill-opacity="0.55"/>
<circle cx="85.6" cy="319.4" r="1.6" fill="#F06ABA" fill-opacity="0.55"/>
<circle cx="114.7" cy="344.1" r="1.6" fill="#F06ABA" fill-opacity="0.55"/>
<circle cx="97.7" cy="340.6" r="1.6" fill="#F06ABA" fill-opacity="0.55"/>
<circle cx="128.5" cy="337.4" r="1.6" fill="#F06ABA" fill-opacity="0.55"/>
<circle cx="114.3" cy="382.2" r="1.6" fill="#F06ABA" fill-opacity="0.55"/>
<circle cx="141.3" cy="321.1" r="1.6" fill="#F06ABA" fill-opacity="0.55"/>
<circle cx="101.5" cy="375.8" r="1.6" fill="#F06ABA" fill-opacity="0.55"/>
<circle cx="82.8" cy="322.9" r="1.6" fill="#F06ABA" fill-opacity="0.55"/>
<circle cx="131.3" cy="402.7" r="1.6" fill="#F06ABA" fill-opacity="0.55"/>
<circle cx="156.0" cy="352.0" r="1.6" fill="#A85E35" fill-opacity="0.8"/>
<circle cx="80.3" cy="412.4" r="1.6" fill="#F06ABA" fill-opacity="0.55"/>
<circle cx="230.7" cy="413.0" r="1.6" fill="#A85E35" fill-opacity="0.8"/>
<circle cx="78.0" cy="331.1" r="1.6" fill="#F06ABA" fill-opacity="0.55"/>
<circle cx="141.2" cy="335.5" r="1.6" fill="#F06ABA" fill-opacity="0.55"/>
<circle cx="123.6" cy="336.2" r="1.6" fill="#F06ABA" fill-opacity="0.55"/>
<circle cx="103.0" cy="363.5" r="1.6" fill="#F06ABA" fill-opacity="0.55"/>
<circle cx="97.9" cy="317.3" r="1.6" fill="#F06ABA" fill-opacity="0.55"/>
<circle cx="88.7" cy="392.2" r="1.6" fill="#F06ABA" fill-opacity="0.55"/>
<circle cx="86.3" cy="387.9" r="1.6" fill="#F06ABA" fill-opacity="0.55"/>
<circle cx="92.4" cy="299.5" r="1.6" fill="#F06ABA" fill-opacity="0.55"/>
<circle cx="84.1" cy="383.0" r="1.6" fill="#F06ABA" fill-opacity="0.55"/>
<circle cx="68.5" cy="317.0" r="1.6" fill="#F06ABA" fill-opacity="0.55"/>
<circle cx="85.3" cy="383.3" r="1.6" fill="#F06ABA" fill-opacity="0.55"/>
<circle cx="85.4" cy="330.5" r="1.6" fill="#F06ABA" fill-opacity="0.55"/>
<circle cx="144.6" cy="357.0" r="1.6" fill="#F06ABA" fill-opacity="0.55"/>
<circle cx="145.2" cy="364.8" r="1.6" fill="#F06ABA" fill-opacity="0.55"/>
<circle cx="120.3" cy="300.2" r="1.6" fill="#F06ABA" fill-opacity="0.55"/>
<circle cx="65.8" cy="383.8" r="1.6" fill="#F06ABA" fill-opacity="0.55"/>
<circle cx="139.7" cy="344.6" r="1.6" fill="#A85E35" fill-opacity="0.8"/>
<circle cx="92.4" cy="379.3" r="1.6" fill="#F06ABA" fill-opacity="0.55"/>
<circle cx="100.7" cy="301.6" r="1.6" fill="#F06ABA" fill-opacity="0.55"/>
<circle cx="88.5" cy="317.3" r="1.6" fill="#F06ABA" fill-opacity="0.55"/>
<circle cx="117.4" cy="281.3" r="1.6" fill="#F06ABA" fill-opacity="0.55"/>
<circle cx="125.3" cy="350.8" r="1.6" fill="#F06ABA" fill-opacity="0.55"/>
<circle cx="106.4" cy="355.2" r="1.6" fill="#A85E35" fill-opacity="0.8"/>
<circle cx="81.9" cy="315.0" r="1.6" fill="#F06ABA" fill-opacity="0.55"/>
<circle cx="82.5" cy="304.2" r="1.6" fill="#F06ABA" fill-opacity="0.55"/>
<circle cx="69.5" cy="412.4" r="1.6" fill="#F06ABA" fill-opacity="0.55"/>
<circle cx="139.3" cy="381.5" r="1.6" fill="#F06ABA" fill-opacity="0.55"/>
<circle cx="153.3" cy="416.0" r="1.6" fill="#A85E35" fill-opacity="0.8"/>
<circle cx="90.1" cy="409.2" r="1.6" fill="#F06ABA" fill-opacity="0.55"/>
<circle cx="112.4" cy="367.2" r="1.6" fill="#F06ABA" fill-opacity="0.55"/>
<circle cx="132.9" cy="329.0" r="1.6" fill="#F06ABA" fill-opacity="0.55"/>
<circle cx="95.8" cy="355.3" r="1.6" fill="#F06ABA" fill-opacity="0.55"/>
<circle cx="106.9" cy="295.8" r="1.6" fill="#F06ABA" fill-opacity="0.55"/>
<circle cx="100.3" cy="329.3" r="1.6" fill="#F06ABA" fill-opacity="0.55"/>
<circle cx="67.5" cy="378.1" r="1.6" fill="#F06ABA" fill-opacity="0.55"/>
<circle cx="134.8" cy="392.7" r="1.6" fill="#A85E35" fill-opacity="0.8"/>
<circle cx="205.3" cy="386.5" r="1.6" fill="#A85E35" fill-opacity="0.8"/>
<circle cx="59.4" cy="358.3" r="1.6" fill="#F06ABA" fill-opacity="0.55"/>
<circle cx="94.4" cy="313.1" r="1.6" fill="#F06ABA" fill-opacity="0.55"/>
<circle cx="101.4" cy="374.9" r="1.6" fill="#F06ABA" fill-opacity="0.55"/>
<circle cx="109.1" cy="317.5" r="1.6" fill="#F06ABA" fill-opacity="0.55"/>
<circle cx="118.5" cy="396.7" r="1.6" fill="#F06ABA" fill-opacity="0.55"/>
<circle cx="138.9" cy="394.0" r="1.6" fill="#F06ABA" fill-opacity="0.55"/>
<circle cx="100.4" cy="380.8" r="1.6" fill="#F06ABA" fill-opacity="0.55"/>
<circle cx="110.9" cy="349.1" r="1.6" fill="#F06ABA" fill-opacity="0.55"/>
<circle cx="104.5" cy="312.6" r="1.6" fill="#F06ABA" fill-opacity="0.55"/>
<circle cx="99.7" cy="344.0" r="1.6" fill="#F06ABA" fill-opacity="0.55"/>
<circle cx="125.2" cy="377.2" r="1.6" fill="#F06ABA" fill-opacity="0.55"/>
<circle cx="122.1" cy="325.4" r="1.6" fill="#F06ABA" fill-opacity="0.55"/>
<circle cx="82.7" cy="339.7" r="1.6" fill="#F06ABA" fill-opacity="0.55"/>
<circle cx="101.4" cy="367.1" r="1.6" fill="#F06ABA" fill-opacity="0.55"/>
<circle cx="126.0" cy="353.1" r="1.6" fill="#F06ABA" fill-opacity="0.55"/>
<circle cx="98.5" cy="321.4" r="1.6" fill="#F06ABA" fill-opacity="0.55"/>
<circle cx="150.0" cy="336.0" r="1.6" fill="#F06ABA" fill-opacity="0.55"/>
<circle cx="85.6" cy="388.4" r="1.6" fill="#F06ABA" fill-opacity="0.55"/>
<circle cx="117.0" cy="308.3" r="1.6" fill="#F06ABA" fill-opacity="0.55"/>
<circle cx="88.4" cy="410.3" r="1.6" fill="#F06ABA" fill-opacity="0.55"/>
<circle cx="103.6" cy="317.3" r="1.6" fill="#F06ABA" fill-opacity="0.55"/>
<circle cx="87.8" cy="356.2" r="1.6" fill="#F06ABA" fill-opacity="0.55"/>
<circle cx="83.1" cy="335.1" r="1.6" fill="#F06ABA" fill-opacity="0.55"/>
<circle cx="101.9" cy="364.8" r="1.6" fill="#F06ABA" fill-opacity="0.55"/>
<circle cx="144.5" cy="384.1" r="1.6" fill="#F06ABA" fill-opacity="0.55"/>
<circle cx="75.8" cy="331.2" r="1.6" fill="#F06ABA" fill-opacity="0.55"/>
<circle cx="172.0" cy="382.0" r="1.6" fill="#F06ABA" fill-opacity="0.55"/>
<circle cx="124.5" cy="310.9" r="1.6" fill="#F06ABA" fill-opacity="0.55"/>
<circle cx="110.3" cy="335.3" r="1.6" fill="#A85E35" fill-opacity="0.8"/>
<circle cx="110.2" cy="362.9" r="1.6" fill="#F06ABA" fill-opacity="0.55"/>
<circle cx="126.2" cy="359.4" r="1.6" fill="#F06ABA" fill-opacity="0.55"/>
<circle cx="94.7" cy="351.8" r="1.6" fill="#F06ABA" fill-opacity="0.55"/>
<circle cx="123.5" cy="411.7" r="1.6" fill="#F06ABA" fill-opacity="0.55"/>
<circle cx="181.0" cy="410.8" r="1.6" fill="#A85E35" fill-opacity="0.8"/>
<circle cx="96.1" cy="364.0" r="1.6" fill="#F06ABA" fill-opacity="0.55"/>
<circle cx="103.4" cy="355.3" r="1.6" fill="#F06ABA" fill-opacity="0.55"/>
<circle cx="104.8" cy="291.3" r="1.6" fill="#F06ABA" fill-opacity="0.55"/>
<circle cx="88.5" cy="397.2" r="1.6" fill="#F06ABA" fill-opacity="0.55"/>
<circle cx="93.6" cy="399.9" r="1.6" fill="#F06ABA" fill-opacity="0.55"/>
<circle cx="119.7" cy="325.6" r="1.6" fill="#A85E35" fill-opacity="0.8"/>
<circle cx="116.0" cy="371.8" r="1.6" fill="#F06ABA" fill-opacity="0.55"/>
<circle cx="97.7" cy="363.4" r="1.6" fill="#F06ABA" fill-opacity="0.55"/>
<circle cx="117.8" cy="358.5" r="1.6" fill="#F06ABA" fill-opacity="0.55"/>
<circle cx="112.9" cy="387.4" r="1.6" fill="#F06ABA" fill-opacity="0.55"/>
<circle cx="133.7" cy="353.2" r="1.6" fill="#F06ABA" fill-opacity="0.55"/>
<circle cx="98.9" cy="369.5" r="1.6" fill="#F06ABA" fill-opacity="0.55"/>
<circle cx="97.0" cy="334.5" r="1.6" fill="#F06ABA" fill-opacity="0.55"/>
<circle cx="60.0" cy="351.5" r="1.6" fill="#F06ABA" fill-opacity="0.55"/>
<circle cx="79.3" cy="313.8" r="1.6" fill="#F06ABA" fill-opacity="0.55"/>
<circle cx="137.9" cy="326.5" r="1.6" fill="#A85E35" fill-opacity="0.8"/>
<circle cx="120.9" cy="333.2" r="1.6" fill="#F06ABA" fill-opacity="0.55"/>
<circle cx="91.7" cy="380.2" r="1.6" fill="#F06ABA" fill-opacity="0.55"/>
<circle cx="122.5" cy="387.8" r="1.6" fill="#A85E35" fill-opacity="0.8"/>
<circle cx="89.4" cy="378.6" r="1.6" fill="#F06ABA" fill-opacity="0.55"/>
<circle cx="101.7" cy="299.4" r="1.6" fill="#F06ABA" fill-opacity="0.55"/>
<circle cx="71.5" cy="384.2" r="1.6" fill="#F06ABA" fill-opacity="0.55"/>
<circle cx="81.7" cy="301.7" r="1.6" fill="#F06ABA" fill-opacity="0.55"/>
<circle cx="63.3" cy="391.5" r="1.6" fill="#F06ABA" fill-opacity="0.55"/>
<circle cx="83.3" cy="346.3" r="1.6" fill="#F06ABA" fill-opacity="0.55"/>
<circle cx="97.4" cy="365.4" r="1.6" fill="#F06ABA" fill-opacity="0.55"/>
<circle cx="129.8" cy="333.0" r="1.6" fill="#F06ABA" fill-opacity="0.55"/>
<circle cx="100.2" cy="361.1" r="1.6" fill="#F06ABA" fill-opacity="0.55"/>
<circle cx="133.3" cy="382.0" r="1.6" fill="#F06ABA" fill-opacity="0.55"/>
<circle cx="113.9" cy="343.4" r="1.6" fill="#F06ABA" fill-opacity="0.55"/>
<circle cx="66.1" cy="360.2" r="1.6" fill="#F06ABA" fill-opacity="0.55"/>
<circle cx="126.0" cy="392.1" r="1.6" fill="#F06ABA" fill-opacity="0.55"/>
<circle cx="113.2" cy="361.1" r="1.6" fill="#F06ABA" fill-opacity="0.55"/>
<circle cx="67.4" cy="362.3" r="1.6" fill="#F06ABA" fill-opacity="0.55"/>
<circle cx="236.0" cy="317.0" r="1.6" fill="#F06ABA" fill-opacity="0.55"/>
<circle cx="136.7" cy="361.0" r="1.6" fill="#F06ABA" fill-opacity="0.55"/>
<circle cx="77.8" cy="334.3" r="1.6" fill="#F06ABA" fill-opacity="0.55"/>
<circle cx="80.1" cy="408.8" r="1.6" fill="#F06ABA" fill-opacity="0.55"/>
<circle cx="151.0" cy="335.0" r="1.6" fill="#F06ABA" fill-opacity="0.55"/>
<circle cx="236.7" cy="316.4" r="1.6" fill="#F06ABA" fill-opacity="0.55"/>
<circle cx="99.4" cy="307.0" r="1.6" fill="#F06ABA" fill-opacity="0.55"/>
<circle cx="103.3" cy="293.9" r="1.6" fill="#F06ABA" fill-opacity="0.55"/>
<circle cx="87.7" cy="393.0" r="1.6" fill="#F06ABA" fill-opacity="0.55"/>
<circle cx="107.1" cy="321.3" r="1.6" fill="#A85E35" fill-opacity="0.8"/>
<circle cx="79.9" cy="392.6" r="1.6" fill="#F06ABA" fill-opacity="0.55"/>
<circle cx="105.4" cy="397.4" r="1.6" fill="#F06ABA" fill-opacity="0.55"/>
<circle cx="104.6" cy="298.3" r="1.6" fill="#F06ABA" fill-opacity="0.55"/>
<circle cx="53.5" cy="367.0" r="1.6" fill="#F06ABA" fill-opacity="0.55"/>
<circle cx="69.9" cy="365.5" r="1.6" fill="#F06ABA" fill-opacity="0.55"/>
<circle cx="112.2" cy="334.6" r="1.6" fill="#F06ABA" fill-opacity="0.55"/>
<circle cx="66.1" cy="394.3" r="1.6" fill="#F06ABA" fill-opacity="0.55"/>
<circle cx="141.2" cy="382.2" r="1.6" fill="#F06ABA" fill-opacity="0.55"/>
<circle cx="90.6" cy="339.3" r="1.6" fill="#F06ABA" fill-opacity="0.55"/>
<circle cx="83.9" cy="359.0" r="1.6" fill="#F06ABA" fill-opacity="0.55"/>
<circle cx="92.0" cy="341.9" r="1.6" fill="#F06ABA" fill-opacity="0.55"/>
<circle cx="98.3" cy="310.2" r="1.6" fill="#F06ABA" fill-opacity="0.55"/>
<circle cx="110.5" cy="360.1" r="1.6" fill="#F06ABA" fill-opacity="0.55"/>
<circle cx="144.0" cy="415.0" r="1.6" fill="#A85E35" fill-opacity="0.8"/>
<circle cx="201.4" cy="401.5" r="1.6" fill="#F06ABA" fill-opacity="0.55"/>
<circle cx="71.3" cy="323.7" r="1.6" fill="#F06ABA" fill-opacity="0.55"/>
<circle cx="85.3" cy="364.2" r="1.6" fill="#F06ABA" fill-opacity="0.55"/>
<circle cx="138.1" cy="279.0" r="1.6" fill="#F06ABA" fill-opacity="0.55"/>
<circle cx="94.9" cy="323.1" r="1.6" fill="#F06ABA" fill-opacity="0.55"/>
<circle cx="66.5" cy="364.5" r="1.6" fill="#F06ABA" fill-opacity="0.55"/>
<circle cx="93.2" cy="391.1" r="1.6" fill="#F06ABA" fill-opacity="0.55"/>
<circle cx="109.7" cy="327.5" r="1.6" fill="#A85E35" fill-opacity="0.8"/>
<circle cx="88.4" cy="364.5" r="1.6" fill="#F06ABA" fill-opacity="0.55"/>
<circle cx="82.5" cy="353.7" r="1.6" fill="#F06ABA" fill-opacity="0.55"/>
<circle cx="95.9" cy="292.6" r="1.6" fill="#F06ABA" fill-opacity="0.55"/>
<circle cx="88.6" cy="384.6" r="1.6" fill="#F06ABA" fill-opacity="0.55"/>
<circle cx="66.6" cy="388.6" r="1.6" fill="#F06ABA" fill-opacity="0.55"/>
<circle cx="113.6" cy="309.3" r="1.6" fill="#F06ABA" fill-opacity="0.55"/>
<circle cx="193.0" cy="361.0" r="1.6" fill="#F06ABA" fill-opacity="0.55"/>
<circle cx="82.2" cy="366.5" r="1.6" fill="#F06ABA" fill-opacity="0.55"/>
<circle cx="62.2" cy="352.2" r="1.6" fill="#F06ABA" fill-opacity="0.55"/>
<circle cx="103.7" cy="399.4" r="1.6" fill="#F06ABA" fill-opacity="0.55"/>
<circle cx="77.1" cy="384.5" r="1.6" fill="#F06ABA" fill-opacity="0.55"/>
<circle cx="110.3" cy="304.3" r="1.6" fill="#F06ABA" fill-opacity="0.55"/>
<circle cx="93.8" cy="331.1" r="1.6" fill="#F06ABA" fill-opacity="0.55"/>
<circle cx="93.3" cy="305.9" r="1.6" fill="#F06ABA" fill-opacity="0.55"/>
<circle cx="111.6" cy="411.7" r="1.6" fill="#F06ABA" fill-opacity="0.55"/>
<circle cx="92.9" cy="297.3" r="1.6" fill="#F06ABA" fill-opacity="0.55"/>
<circle cx="139.4" cy="337.8" r="1.6" fill="#F06ABA" fill-opacity="0.55"/>
<circle cx="127.0" cy="410.5" r="1.6" fill="#F06ABA" fill-opacity="0.55"/>
<circle cx="87.2" cy="351.4" r="1.6" fill="#F06ABA" fill-opacity="0.55"/>
<circle cx="131.1" cy="389.5" r="1.6" fill="#F06ABA" fill-opacity="0.55"/>
<circle cx="117.5" cy="395.8" r="1.6" fill="#A85E35" fill-opacity="0.8"/>
<circle cx="86.2" cy="350.3" r="1.6" fill="#F06ABA" fill-opacity="0.55"/>
<circle cx="120.0" cy="381.9" r="1.6" fill="#A85E35" fill-opacity="0.8"/>
<circle cx="86.9" cy="349.7" r="1.6" fill="#F06ABA" fill-opacity="0.55"/>
<circle cx="90.9" cy="334.4" r="1.6" fill="#F06ABA" fill-opacity="0.55"/>
<circle cx="76.6" cy="317.8" r="1.6" fill="#F06ABA" fill-opacity="0.55"/>
<circle cx="91.4" cy="331.5" r="1.6" fill="#F06ABA" fill-opacity="0.55"/>
<circle cx="92.8" cy="294.6" r="1.6" fill="#F06ABA" fill-opacity="0.55"/>
<circle cx="125.4" cy="320.1" r="1.6" fill="#F06ABA" fill-opacity="0.55"/>
<circle cx="125.0" cy="353.1" r="1.6" fill="#F06ABA" fill-opacity="0.55"/>
<circle cx="101.3" cy="326.4" r="1.6" fill="#F06ABA" fill-opacity="0.55"/>
<circle cx="90.7" cy="307.8" r="1.6" fill="#F06ABA" fill-opacity="0.55"/>
<circle cx="92.3" cy="333.7" r="1.6" fill="#F06ABA" fill-opacity="0.55"/>
<circle cx="88.2" cy="390.6" r="1.6" fill="#F06ABA" fill-opacity="0.55"/>
<circle cx="72.4" cy="377.0" r="1.6" fill="#F06ABA" fill-opacity="0.55"/>
<circle cx="150.0" cy="390.4" r="1.6" fill="#F06ABA" fill-opacity="0.55"/>
<circle cx="91.1" cy="326.9" r="1.6" fill="#F06ABA" fill-opacity="0.55"/>
<circle cx="98.9" cy="343.1" r="1.6" fill="#F06ABA" fill-opacity="0.55"/>
<circle cx="91.7" cy="366.2" r="1.6" fill="#F06ABA" fill-opacity="0.55"/>
<circle cx="104.5" cy="391.5" r="1.6" fill="#F06ABA" fill-opacity="0.55"/>
<circle cx="111.1" cy="339.2" r="1.6" fill="#F06ABA" fill-opacity="0.55"/>
<circle cx="87.8" cy="332.3" r="1.6" fill="#F06ABA" fill-opacity="0.55"/>
<circle cx="90.4" cy="319.4" r="1.6" fill="#F06ABA" fill-opacity="0.55"/>
<circle cx="124.5" cy="368.2" r="1.6" fill="#F06ABA" fill-opacity="0.55"/>
<circle cx="69.3" cy="361.9" r="1.6" fill="#F06ABA" fill-opacity="0.55"/>
<circle cx="66.3" cy="382.1" r="1.6" fill="#F06ABA" fill-opacity="0.55"/>
<circle cx="81.6" cy="300.4" r="1.6" fill="#F06ABA" fill-opacity="0.55"/>
<circle cx="158.8" cy="409.7" r="1.6" fill="#F06ABA" fill-opacity="0.55"/>
<circle cx="79.5" cy="353.2" r="1.6" fill="#F06ABA" fill-opacity="0.55"/>
<circle cx="119.5" cy="331.6" r="1.6" fill="#F06ABA" fill-opacity="0.55"/>
<circle cx="104.3" cy="308.6" r="1.6" fill="#F06ABA" fill-opacity="0.55"/>
<circle cx="69.9" cy="305.8" r="1.6" fill="#F06ABA" fill-opacity="0.55"/>
<circle cx="127.4" cy="382.8" r="1.6" fill="#A85E35" fill-opacity="0.8"/>
<circle cx="101.2" cy="373.7" r="1.6" fill="#F06ABA" fill-opacity="0.55"/>
<circle cx="126.3" cy="336.9" r="1.6" fill="#F06ABA" fill-opacity="0.55"/>
<circle cx="99.0" cy="374.1" r="1.6" fill="#F06ABA" fill-opacity="0.55"/>
<circle cx="113.9" cy="369.5" r="1.6" fill="#F06ABA" fill-opacity="0.55"/>
<circle cx="124.3" cy="320.0" r="1.6" fill="#A85E35" fill-opacity="0.8"/>
<circle cx="123.6" cy="322.5" r="1.6" fill="#F06ABA" fill-opacity="0.55"/>
<circle cx="110.2" cy="388.7" r="1.6" fill="#A85E35" fill-opacity="0.8"/>
<circle cx="85.5" cy="394.0" r="1.6" fill="#F06ABA" fill-opacity="0.55"/>
<circle cx="161.7" cy="332.3" r="1.6" fill="#F06ABA" fill-opacity="0.55"/>
<circle cx="112.1" cy="306.6" r="1.6" fill="#F06ABA" fill-opacity="0.55"/>
<circle cx="109.6" cy="399.3" r="1.6" fill="#F06ABA" fill-opacity="0.55"/>
<circle cx="121.3" cy="392.1" r="1.6" fill="#F06ABA" fill-opacity="0.55"/>
<circle cx="84.1" cy="355.3" r="1.6" fill="#F06ABA" fill-opacity="0.55"/>
<circle cx="113.7" cy="300.5" r="1.6" fill="#F06ABA" fill-opacity="0.55"/>
<circle cx="101.4" cy="317.0" r="1.6" fill="#F06ABA" fill-opacity="0.55"/>
<circle cx="187.6" cy="410.2" r="1.6" fill="#A85E35" fill-opacity="0.8"/>
<circle cx="97.4" cy="331.7" r="1.6" fill="#F06ABA" fill-opacity="0.55"/>
<circle cx="120.2" cy="356.1" r="1.6" fill="#F06ABA" fill-opacity="0.55"/>
<circle cx="101.8" cy="360.5" r="1.6" fill="#F06ABA" fill-opacity="0.55"/>
<circle cx="97.1" cy="348.1" r="1.6" fill="#F06ABA" fill-opacity="0.55"/>
<circle cx="95.8" cy="349.8" r="1.6" fill="#F06ABA" fill-opacity="0.55"/>
<circle cx="60.2" cy="319.2" r="1.6" fill="#F06ABA" fill-opacity="0.55"/>
<circle cx="111.7" cy="327.6" r="1.6" fill="#F06ABA" fill-opacity="0.55"/>
<circle cx="93.8" cy="390.8" r="1.6" fill="#F06ABA" fill-opacity="0.55"/>
<circle cx="138.7" cy="341.6" r="1.6" fill="#F06ABA" fill-opacity="0.55"/>
<circle cx="112.6" cy="373.2" r="1.6" fill="#F06ABA" fill-opacity="0.55"/>
<circle cx="109.9" cy="295.2" r="1.6" fill="#F06ABA" fill-opacity="0.55"/>
<circle cx="73.6" cy="350.8" r="1.6" fill="#F06ABA" fill-opacity="0.55"/>
<circle cx="97.7" cy="311.9" r="1.6" fill="#F06ABA" fill-opacity="0.55"/>
<circle cx="97.8" cy="355.2" r="1.6" fill="#F06ABA" fill-opacity="0.55"/>
<circle cx="131.6" cy="382.5" r="1.6" fill="#F06ABA" fill-opacity="0.55"/>
<circle cx="86.9" cy="336.2" r="1.6" fill="#F06ABA" fill-opacity="0.55"/>
<circle cx="178.7" cy="409.3" r="1.6" fill="#A85E35" fill-opacity="0.8"/>
<circle cx="83.0" cy="334.6" r="1.6" fill="#F06ABA" fill-opacity="0.55"/>
<circle cx="82.5" cy="401.2" r="1.6" fill="#F06ABA" fill-opacity="0.55"/>
<circle cx="101.2" cy="317.6" r="1.6" fill="#F06ABA" fill-opacity="0.55"/>
<circle cx="117.1" cy="387.1" r="1.6" fill="#A85E35" fill-opacity="0.8"/>
<circle cx="96.9" cy="332.0" r="1.6" fill="#F06ABA" fill-opacity="0.55"/>
<circle cx="115.4" cy="370.4" r="1.6" fill="#F06ABA" fill-opacity="0.55"/>
<circle cx="92.7" cy="365.0" r="1.6" fill="#F06ABA" fill-opacity="0.55"/>
<circle cx="101.5" cy="345.4" r="1.6" fill="#F06ABA" fill-opacity="0.55"/>
<circle cx="94.2" cy="309.7" r="1.6" fill="#F06ABA" fill-opacity="0.55"/>
<circle cx="147.0" cy="395.0" r="1.6" fill="#A85E35" fill-opacity="0.8"/>
<circle cx="91.5" cy="310.8" r="1.6" fill="#F06ABA" fill-opacity="0.55"/>
<circle cx="118.1" cy="358.4" r="1.6" fill="#F06ABA" fill-opacity="0.55"/>
<circle cx="99.1" cy="370.3" r="1.6" fill="#F06ABA" fill-opacity="0.55"/>
<circle cx="91.3" cy="322.1" r="1.6" fill="#F06ABA" fill-opacity="0.55"/>
<circle cx="57.9" cy="319.4" r="1.6" fill="#F06ABA" fill-opacity="0.55"/>
<circle cx="115.3" cy="319.2" r="1.6" fill="#F06ABA" fill-opacity="0.55"/>
<circle cx="105.2" cy="337.1" r="1.6" fill="#A85E35" fill-opacity="0.8"/>
<circle cx="135.7" cy="415.2" r="1.6" fill="#F06ABA" fill-opacity="0.55"/>
<circle cx="71.6" cy="320.1" r="1.6" fill="#F06ABA" fill-opacity="0.55"/>
<circle cx="145.0" cy="372.0" r="1.6" fill="#A85E35" fill-opacity="0.8"/>
<circle cx="161.0" cy="406.4" r="1.6" fill="#A85E35" fill-opacity="0.8"/>
<circle cx="115.4" cy="345.2" r="1.6" fill="#A85E35" fill-opacity="0.8"/>
<circle cx="107.3" cy="328.0" r="1.6" fill="#F06ABA" fill-opacity="0.55"/>
<circle cx="107.8" cy="411.4" r="1.6" fill="#F06ABA" fill-opacity="0.55"/>
<circle cx="113.6" cy="347.9" r="1.6" fill="#F06ABA" fill-opacity="0.55"/>
<circle cx="86.6" cy="368.5" r="1.6" fill="#F06ABA" fill-opacity="0.55"/>
<circle cx="89.5" cy="377.5" r="1.6" fill="#F06ABA" fill-opacity="0.55"/>
<circle cx="98.1" cy="335.4" r="1.6" fill="#F06ABA" fill-opacity="0.55"/>
<circle cx="143.6" cy="391.9" r="1.6" fill="#F06ABA" fill-opacity="0.55"/>
<circle cx="108.2" cy="339.9" r="1.6" fill="#A85E35" fill-opacity="0.8"/>
<circle cx="114.3" cy="380.1" r="1.6" fill="#F06ABA" fill-opacity="0.55"/>
<circle cx="87.3" cy="380.0" r="1.6" fill="#F06ABA" fill-opacity="0.55"/>
<circle cx="103.3" cy="358.9" r="1.6" fill="#F06ABA" fill-opacity="0.55"/>
<circle cx="103.7" cy="337.6" r="1.6" fill="#F06ABA" fill-opacity="0.55"/>
<circle cx="148.8" cy="360.0" r="1.6" fill="#F06ABA" fill-opacity="0.55"/>
<circle cx="84.7" cy="318.8" r="1.6" fill="#F06ABA" fill-opacity="0.55"/>
<circle cx="62.1" cy="325.2" r="1.6" fill="#F06ABA" fill-opacity="0.55"/>
<circle cx="94.1" cy="327.0" r="1.6" fill="#F06ABA" fill-opacity="0.55"/>
<circle cx="102.5" cy="324.2" r="1.6" fill="#A85E35" fill-opacity="0.8"/>
<circle cx="103.6" cy="370.1" r="1.6" fill="#F06ABA" fill-opacity="0.55"/>
<circle cx="70.2" cy="366.7" r="1.6" fill="#F06ABA" fill-opacity="0.55"/>
<circle cx="119.5" cy="356.8" r="1.6" fill="#A85E35" fill-opacity="0.8"/>
<circle cx="104.1" cy="341.6" r="1.6" fill="#F06ABA" fill-opacity="0.55"/>
<circle cx="94.5" cy="407.1" r="1.6" fill="#F06ABA" fill-opacity="0.55"/>
<circle cx="110.1" cy="319.7" r="1.6" fill="#F06ABA" fill-opacity="0.55"/>
<circle cx="108.3" cy="336.9" r="1.6" fill="#F06ABA" fill-opacity="0.55"/>
<circle cx="78.6" cy="330.2" r="1.6" fill="#F06ABA" fill-opacity="0.55"/>
<circle cx="198.6" cy="402.0" r="1.6" fill="#A85E35" fill-opacity="0.8"/>
<circle cx="154.4" cy="378.3" r="1.6" fill="#F06ABA" fill-opacity="0.55"/>
<circle cx="103.0" cy="301.9" r="1.6" fill="#F06ABA" fill-opacity="0.55"/>
<circle cx="114.7" cy="346.6" r="1.6" fill="#F06ABA" fill-opacity="0.55"/>
<circle cx="120.5" cy="375.4" r="1.6" fill="#F06ABA" fill-opacity="0.55"/>
<circle cx="115.4" cy="296.2" r="1.6" fill="#F06ABA" fill-opacity="0.55"/>
<circle cx="74.0" cy="332.1" r="1.6" fill="#F06ABA" fill-opacity="0.55"/>
<circle cx="121.2" cy="335.4" r="1.6" fill="#F06ABA" fill-opacity="0.55"/>
<circle cx="71.7" cy="397.0" r="1.6" fill="#F06ABA" fill-opacity="0.55"/>
<circle cx="74.2" cy="380.1" r="1.6" fill="#F06ABA" fill-opacity="0.55"/>
<circle cx="59.1" cy="413.7" r="1.6" fill="#F06ABA" fill-opacity="0.55"/>
<circle cx="116.3" cy="402.4" r="1.6" fill="#F06ABA" fill-opacity="0.55"/>
<circle cx="107.4" cy="298.1" r="1.6" fill="#F06ABA" fill-opacity="0.55"/>
<circle cx="124.2" cy="310.3" r="1.6" fill="#F06ABA" fill-opacity="0.55"/>
<circle cx="95.1" cy="306.7" r="1.6" fill="#F06ABA" fill-opacity="0.55"/>
<circle cx="89.7" cy="304.3" r="1.6" fill="#F06ABA" fill-opacity="0.55"/>
<circle cx="127.6" cy="352.3" r="1.6" fill="#F06ABA" fill-opacity="0.55"/>
<circle cx="103.0" cy="311.2" r="1.6" fill="#F06ABA" fill-opacity="0.55"/>
<circle cx="128.7" cy="312.8" r="1.6" fill="#F06ABA" fill-opacity="0.55"/>
<circle cx="110.0" cy="412.4" r="1.6" fill="#F06ABA" fill-opacity="0.55"/>
<circle cx="74.9" cy="381.9" r="1.6" fill="#F06ABA" fill-opacity="0.55"/>
<circle cx="87.9" cy="293.6" r="1.6" fill="#F06ABA" fill-opacity="0.55"/>
<circle cx="117.9" cy="321.8" r="1.6" fill="#F06ABA" fill-opacity="0.55"/>
<circle cx="92.3" cy="374.4" r="1.6" fill="#F06ABA" fill-opacity="0.55"/>
<circle cx="100.0" cy="349.9" r="1.6" fill="#F06ABA" fill-opacity="0.55"/>
<circle cx="117.6" cy="315.5" r="1.6" fill="#F06ABA" fill-opacity="0.55"/>
<circle cx="96.3" cy="417.0" r="1.6" fill="#F06ABA" fill-opacity="0.55"/>
<circle cx="105.4" cy="316.5" r="1.6" fill="#F06ABA" fill-opacity="0.55"/>
<circle cx="102.2" cy="333.1" r="1.6" fill="#A85E35" fill-opacity="0.8"/>
<circle cx="86.4" cy="329.4" r="1.6" fill="#F06ABA" fill-opacity="0.55"/>
<circle cx="110.0" cy="349.0" r="1.6" fill="#F06ABA" fill-opacity="0.55"/>
<circle cx="128.4" cy="348.0" r="1.6" fill="#F06ABA" fill-opacity="0.55"/>
<circle cx="103.2" cy="327.7" r="1.6" fill="#F06ABA" fill-opacity="0.55"/>
<circle cx="85.6" cy="356.8" r="1.6" fill="#F06ABA" fill-opacity="0.55"/>
<circle cx="80.2" cy="373.6" r="1.6" fill="#F06ABA" fill-opacity="0.55"/>
<circle cx="138.2" cy="338.4" r="1.6" fill="#F06ABA" fill-opacity="0.55"/>
<circle cx="99.3" cy="329.5" r="1.6" fill="#F06ABA" fill-opacity="0.55"/>
<circle cx="98.3" cy="296.6" r="1.6" fill="#F06ABA" fill-opacity="0.55"/>
<circle cx="76.5" cy="299.2" r="1.6" fill="#F06ABA" fill-opacity="0.55"/>
<circle cx="83.4" cy="377.9" r="1.6" fill="#F06ABA" fill-opacity="0.55"/>
<circle cx="94.0" cy="399.3" r="1.6" fill="#F06ABA" fill-opacity="0.55"/>
<circle cx="83.1" cy="381.7" r="1.6" fill="#F06ABA" fill-opacity="0.55"/>
<circle cx="166.0" cy="291.8" r="1.6" fill="#F06ABA" fill-opacity="0.55"/>
<circle cx="87.8" cy="389.6" r="1.6" fill="#F06ABA" fill-opacity="0.55"/>
<circle cx="111.1" cy="368.1" r="1.6" fill="#F06ABA" fill-opacity="0.55"/>
<circle cx="109.0" cy="355.8" r="1.6" fill="#F06ABA" fill-opacity="0.55"/>
<circle cx="135.3" cy="369.4" r="1.6" fill="#F06ABA" fill-opacity="0.55"/>
<circle cx="124.3" cy="374.2" r="1.6" fill="#F06ABA" fill-opacity="0.55"/>
<circle cx="109.5" cy="357.9" r="1.6" fill="#F06ABA" fill-opacity="0.55"/>
<circle cx="136.0" cy="410.0" r="1.6" fill="#F06ABA" fill-opacity="0.55"/>
<circle cx="66.5" cy="316.5" r="1.6" fill="#F06ABA" fill-opacity="0.55"/>
<circle cx="117.5" cy="336.1" r="1.6" fill="#F06ABA" fill-opacity="0.55"/>
<circle cx="102.8" cy="307.6" r="1.6" fill="#F06ABA" fill-opacity="0.55"/>
<circle cx="152.0" cy="380.0" r="1.6" fill="#A85E35" fill-opacity="0.8"/>
<circle cx="106.6" cy="324.4" r="1.6" fill="#F06ABA" fill-opacity="0.55"/>
<circle cx="120.4" cy="322.1" r="1.6" fill="#A85E35" fill-opacity="0.8"/>
<circle cx="117.9" cy="358.3" r="1.6" fill="#F06ABA" fill-opacity="0.55"/>
<circle cx="127.0" cy="340.2" r="1.6" fill="#F06ABA" fill-opacity="0.55"/>
<circle cx="105.3" cy="398.2" r="1.6" fill="#F06ABA" fill-opacity="0.55"/>
<circle cx="99.7" cy="345.5" r="1.6" fill="#F06ABA" fill-opacity="0.55"/>
<circle cx="91.9" cy="319.4" r="1.6" fill="#F06ABA" fill-opacity="0.55"/>
<circle cx="95.1" cy="316.3" r="1.6" fill="#F06ABA" fill-opacity="0.55"/>
<circle cx="114.3" cy="322.1" r="1.6" fill="#F06ABA" fill-opacity="0.55"/>
<circle cx="93.6" cy="304.7" r="1.6" fill="#F06ABA" fill-opacity="0.55"/>
<circle cx="122.4" cy="352.9" r="1.6" fill="#A85E35" fill-opacity="0.8"/>
<circle cx="184.2" cy="380.0" r="1.6" fill="#F06ABA" fill-opacity="0.55"/>
<circle cx="94.9" cy="388.0" r="1.6" fill="#F06ABA" fill-opacity="0.55"/>
<circle cx="194.2" cy="408.6" r="1.6" fill="#A85E35" fill-opacity="0.8"/>
<circle cx="87.5" cy="329.9" r="1.6" fill="#F06ABA" fill-opacity="0.55"/>
<circle cx="100.0" cy="334.6" r="1.6" fill="#F06ABA" fill-opacity="0.55"/>
<circle cx="111.7" cy="353.2" r="1.6" fill="#F06ABA" fill-opacity="0.55"/>
<circle cx="91.3" cy="392.6" r="1.6" fill="#F06ABA" fill-opacity="0.55"/>
<circle cx="107.7" cy="354.1" r="1.6" fill="#F06ABA" fill-opacity="0.55"/>
<circle cx="150.0" cy="369.9" r="1.6" fill="#F06ABA" fill-opacity="0.55"/>
<circle cx="117.6" cy="311.6" r="1.6" fill="#F06ABA" fill-opacity="0.55"/>
<circle cx="70.5" cy="332.0" r="1.6" fill="#F06ABA" fill-opacity="0.55"/>
<circle cx="166.0" cy="292.5" r="1.6" fill="#F06ABA" fill-opacity="0.55"/>
<circle cx="134.0" cy="339.5" r="1.6" fill="#F06ABA" fill-opacity="0.55"/>
<circle cx="115.6" cy="358.0" r="1.6" fill="#F06ABA" fill-opacity="0.55"/>
<circle cx="134.1" cy="371.5" r="1.6" fill="#A85E35" fill-opacity="0.8"/>
<circle cx="85.9" cy="369.2" r="1.6" fill="#F06ABA" fill-opacity="0.55"/>
<circle cx="159.4" cy="338.4" r="1.6" fill="#A85E35" fill-opacity="0.8"/>
<circle cx="110.0" cy="383.4" r="1.6" fill="#F06ABA" fill-opacity="0.55"/>
<circle cx="142.2" cy="347.4" r="1.6" fill="#A85E35" fill-opacity="0.8"/>
<circle cx="55.8" cy="389.6" r="1.6" fill="#F06ABA" fill-opacity="0.55"/>
<circle cx="107.1" cy="357.4" r="1.6" fill="#F06ABA" fill-opacity="0.55"/>
<circle cx="116.6" cy="314.6" r="1.6" fill="#F06ABA" fill-opacity="0.55"/>
<circle cx="72.8" cy="354.5" r="1.6" fill="#F06ABA" fill-opacity="0.55"/>
<circle cx="91.5" cy="387.3" r="1.6" fill="#F06ABA" fill-opacity="0.55"/>
<circle cx="81.2" cy="405.3" r="1.6" fill="#F06ABA" fill-opacity="0.55"/>
<circle cx="76.8" cy="376.8" r="1.6" fill="#F06ABA" fill-opacity="0.55"/>
<circle cx="110.3" cy="312.5" r="1.6" fill="#F06ABA" fill-opacity="0.55"/>
<circle cx="149.7" cy="349.9" r="1.6" fill="#F06ABA" fill-opacity="0.55"/>
<circle cx="109.8" cy="320.2" r="1.6" fill="#F06ABA" fill-opacity="0.55"/>
<circle cx="92.4" cy="297.2" r="1.6" fill="#F06ABA" fill-opacity="0.55"/>
<circle cx="105.6" cy="277.0" r="1.6" fill="#F06ABA" fill-opacity="0.55"/>
<circle cx="77.8" cy="414.1" r="1.6" fill="#F06ABA" fill-opacity="0.55"/>
<circle cx="92.4" cy="333.8" r="1.6" fill="#F06ABA" fill-opacity="0.55"/>
<circle cx="111.6" cy="346.3" r="1.6" fill="#F06ABA" fill-opacity="0.55"/>
<circle cx="91.7" cy="326.8" r="1.6" fill="#F06ABA" fill-opacity="0.55"/>
<circle cx="100.6" cy="389.5" r="1.6" fill="#F06ABA" fill-opacity="0.55"/>
<circle cx="119.9" cy="346.2" r="1.6" fill="#F06ABA" fill-opacity="0.55"/>
<circle cx="109.1" cy="344.4" r="1.6" fill="#F06ABA" fill-opacity="0.55"/>
<circle cx="114.0" cy="342.4" r="1.6" fill="#A85E35" fill-opacity="0.8"/>
<circle cx="102.0" cy="306.7" r="1.6" fill="#F06ABA" fill-opacity="0.55"/>
<circle cx="83.7" cy="409.3" r="1.6" fill="#F06ABA" fill-opacity="0.55"/>
<circle cx="108.7" cy="390.2" r="1.6" fill="#F06ABA" fill-opacity="0.55"/>
<circle cx="112.4" cy="318.1" r="1.6" fill="#F06ABA" fill-opacity="0.55"/>
<circle cx="119.8" cy="387.8" r="1.6" fill="#F06ABA" fill-opacity="0.55"/>
<circle cx="110.6" cy="335.7" r="1.6" fill="#F06ABA" fill-opacity="0.55"/>
<circle cx="129.2" cy="318.9" r="1.6" fill="#F06ABA" fill-opacity="0.55"/>
<circle cx="60.8" cy="413.6" r="1.6" fill="#F06ABA" fill-opacity="0.55"/>
<circle cx="118.5" cy="321.1" r="1.6" fill="#F06ABA" fill-opacity="0.55"/>
<circle cx="111.2" cy="379.3" r="1.6" fill="#A85E35" fill-opacity="0.8"/>
<circle cx="200.8" cy="413.0" r="1.6" fill="#A85E35" fill-opacity="0.8"/>
<circle cx="83.0" cy="341.5" r="1.6" fill="#F06ABA" fill-opacity="0.55"/>
<circle cx="179.6" cy="303.0" r="1.6" fill="#F06ABA" fill-opacity="0.55"/>
<circle cx="83.3" cy="399.3" r="1.6" fill="#F06ABA" fill-opacity="0.55"/>
<circle cx="128.4" cy="376.9" r="1.6" fill="#A85E35" fill-opacity="0.8"/>
<circle cx="96.8" cy="339.3" r="1.6" fill="#F06ABA" fill-opacity="0.55"/>
<circle cx="76.8" cy="390.2" r="1.6" fill="#F06ABA" fill-opacity="0.55"/>
<circle cx="78.3" cy="362.2" r="1.6" fill="#F06ABA" fill-opacity="0.55"/>
<circle cx="101.7" cy="394.3" r="1.6" fill="#F06ABA" fill-opacity="0.55"/>
<circle cx="130.5" cy="380.2" r="1.6" fill="#F06ABA" fill-opacity="0.55"/>
<circle cx="115.2" cy="396.6" r="1.6" fill="#F06ABA" fill-opacity="0.55"/>
<circle cx="87.8" cy="333.4" r="1.6" fill="#F06ABA" fill-opacity="0.55"/>
<circle cx="84.7" cy="397.2" r="1.6" fill="#F06ABA" fill-opacity="0.55"/>
<circle cx="103.7" cy="304.7" r="1.6" fill="#F06ABA" fill-opacity="0.55"/>
<circle cx="141.0" cy="271.0" r="1.6" fill="#F06ABA" fill-opacity="0.55"/>
<circle cx="102.2" cy="312.5" r="1.6" fill="#F06ABA" fill-opacity="0.55"/>
<circle cx="100.3" cy="340.1" r="1.6" fill="#F06ABA" fill-opacity="0.55"/>
<circle cx="83.9" cy="361.6" r="1.6" fill="#F06ABA" fill-opacity="0.55"/>
<circle cx="109.2" cy="387.1" r="1.6" fill="#F06ABA" fill-opacity="0.55"/>
<circle cx="88.5" cy="340.2" r="1.6" fill="#F06ABA" fill-opacity="0.55"/>
<circle cx="90.6" cy="313.7" r="1.6" fill="#F06ABA" fill-opacity="0.55"/>
<circle cx="103.0" cy="352.0" r="1.6" fill="#F06ABA" fill-opacity="0.55"/>
<circle cx="118.8" cy="397.3" r="1.6" fill="#F06ABA" fill-opacity="0.55"/>
<circle cx="95.6" cy="324.4" r="1.6" fill="#F06ABA" fill-opacity="0.55"/>
<circle cx="101.8" cy="321.0" r="1.6" fill="#F06ABA" fill-opacity="0.55"/>
<circle cx="114.9" cy="335.3" r="1.6" fill="#A85E35" fill-opacity="0.8"/>
<circle cx="223.0" cy="416.0" r="1.6" fill="#A85E35" fill-opacity="0.8"/>
<circle cx="112.3" cy="353.1" r="1.6" fill="#F06ABA" fill-opacity="0.55"/>
<circle cx="115.7" cy="411.0" r="1.6" fill="#F06ABA" fill-opacity="0.55"/>
<circle cx="127.1" cy="358.5" r="1.6" fill="#A85E35" fill-opacity="0.8"/>
<circle cx="88.7" cy="364.2" r="1.6" fill="#F06ABA" fill-opacity="0.55"/>
<circle cx="202.0" cy="401.5" r="1.6" fill="#A85E35" fill-opacity="0.8"/>
<circle cx="86.5" cy="281.3" r="1.6" fill="#F06ABA" fill-opacity="0.55"/>
<circle cx="81.8" cy="372.2" r="1.6" fill="#F06ABA" fill-opacity="0.55"/>
<circle cx="96.1" cy="297.3" r="1.6" fill="#F06ABA" fill-opacity="0.55"/>
<circle cx="54.3" cy="334.0" r="1.6" fill="#F06ABA" fill-opacity="0.55"/>
<circle cx="108.6" cy="417.0" r="1.6" fill="#F06ABA" fill-opacity="0.55"/>
<circle cx="81.7" cy="319.4" r="1.6" fill="#F06ABA" fill-opacity="0.55"/>
<circle cx="97.3" cy="396.3" r="1.6" fill="#F06ABA" fill-opacity="0.55"/>
<circle cx="78.8" cy="395.1" r="1.6" fill="#F06ABA" fill-opacity="0.55"/>
<circle cx="61.1" cy="382.3" r="1.6" fill="#F06ABA" fill-opacity="0.55"/>
<circle cx="67.0" cy="415.5" r="1.6" fill="#F06ABA" fill-opacity="0.55"/>
<circle cx="108.3" cy="385.6" r="1.6" fill="#F06ABA" fill-opacity="0.55"/>
<circle cx="116.4" cy="405.8" r="1.6" fill="#F06ABA" fill-opacity="0.55"/>
<circle cx="113.3" cy="362.6" r="1.6" fill="#F06ABA" fill-opacity="0.55"/>
<circle cx="98.6" cy="306.6" r="1.6" fill="#A85E35" fill-opacity="0.8"/>
<circle cx="121.4" cy="329.7" r="1.6" fill="#A85E35" fill-opacity="0.8"/>
<circle cx="144.5" cy="388.9" r="1.6" fill="#F06ABA" fill-opacity="0.55"/>
<circle cx="90.4" cy="324.6" r="1.6" fill="#F06ABA" fill-opacity="0.55"/>
<circle cx="116.9" cy="358.9" r="1.6" fill="#A85E35" fill-opacity="0.8"/>
<circle cx="108.0" cy="329.6" r="1.6" fill="#F06ABA" fill-opacity="0.55"/>
<circle cx="120.6" cy="390.8" r="1.6" fill="#F06ABA" fill-opacity="0.55"/>
<circle cx="85.0" cy="375.6" r="1.6" fill="#F06ABA" fill-opacity="0.55"/>
<circle cx="144.0" cy="354.6" r="1.6" fill="#F06ABA" fill-opacity="0.55"/>
<circle cx="98.8" cy="301.8" r="1.6" fill="#F06ABA" fill-opacity="0.55"/>
<circle cx="137.7" cy="333.0" r="1.6" fill="#F06ABA" fill-opacity="0.55"/>
<circle cx="115.3" cy="409.3" r="1.6" fill="#F06ABA" fill-opacity="0.55"/>
<circle cx="124.3" cy="334.9" r="1.6" fill="#F06ABA" fill-opacity="0.55"/>
<circle cx="90.9" cy="304.5" r="1.6" fill="#F06ABA" fill-opacity="0.55"/>
<circle cx="148.0" cy="318.0" r="1.6" fill="#F06ABA" fill-opacity="0.55"/>
<circle cx="128.0" cy="342.3" r="1.6" fill="#F06ABA" fill-opacity="0.55"/>
<circle cx="106.4" cy="354.0" r="1.6" fill="#F06ABA" fill-opacity="0.55"/>
<circle cx="102.8" cy="380.7" r="1.6" fill="#F06ABA" fill-opacity="0.55"/>
<circle cx="63.8" cy="318.5" r="1.6" fill="#F06ABA" fill-opacity="0.55"/>
<circle cx="121.3" cy="344.0" r="1.6" fill="#F06ABA" fill-opacity="0.55"/>
<circle cx="126.7" cy="347.2" r="1.6" fill="#F06ABA" fill-opacity="0.55"/>
<circle cx="78.5" cy="349.2" r="1.6" fill="#F06ABA" fill-opacity="0.55"/>
<circle cx="76.5" cy="390.7" r="1.6" fill="#F06ABA" fill-opacity="0.55"/>
<circle cx="130.2" cy="326.5" r="1.6" fill="#F06ABA" fill-opacity="0.55"/>
<circle cx="104.6" cy="401.5" r="1.6" fill="#F06ABA" fill-opacity="0.55"/>
<circle cx="60.2" cy="364.7" r="1.6" fill="#F06ABA" fill-opacity="0.55"/>
<circle cx="99.2" cy="295.9" r="1.6" fill="#F06ABA" fill-opacity="0.55"/>
<circle cx="94.5" cy="348.6" r="1.6" fill="#F06ABA" fill-opacity="0.55"/>
<circle cx="98.6" cy="334.2" r="1.6" fill="#F06ABA" fill-opacity="0.55"/>
<circle cx="125.4" cy="332.4" r="1.6" fill="#F06ABA" fill-opacity="0.55"/>
<circle cx="114.4" cy="335.3" r="1.6" fill="#F06ABA" fill-opacity="0.55"/>
<circle cx="125.4" cy="344.1" r="1.6" fill="#A85E35" fill-opacity="0.8"/>
<circle cx="80.8" cy="338.4" r="1.6" fill="#F06ABA" fill-opacity="0.55"/>
<circle cx="93.6" cy="293.1" r="1.6" fill="#F06ABA" fill-opacity="0.55"/>
<circle cx="76.7" cy="370.8" r="1.6" fill="#F06ABA" fill-opacity="0.55"/>
<circle cx="87.0" cy="357.0" r="1.6" fill="#F06ABA" fill-opacity="0.55"/>
<circle cx="86.5" cy="328.3" r="1.6" fill="#F06ABA" fill-opacity="0.55"/>
<circle cx="96.6" cy="341.0" r="1.6" fill="#F06ABA" fill-opacity="0.55"/>
<circle cx="86.3" cy="370.3" r="1.6" fill="#F06ABA" fill-opacity="0.55"/>
<circle cx="78.7" cy="328.7" r="1.6" fill="#F06ABA" fill-opacity="0.55"/>
<circle cx="65.4" cy="318.9" r="1.6" fill="#F06ABA" fill-opacity="0.55"/>
<circle cx="74.9" cy="330.8" r="1.6" fill="#F06ABA" fill-opacity="0.55"/>
<circle cx="89.2" cy="381.7" r="1.6" fill="#F06ABA" fill-opacity="0.55"/>
<circle cx="95.3" cy="317.9" r="1.6" fill="#F06ABA" fill-opacity="0.55"/>
<circle cx="106.2" cy="358.1" r="1.6" fill="#F06ABA" fill-opacity="0.55"/>
<circle cx="105.1" cy="396.2" r="1.6" fill="#F06ABA" fill-opacity="0.55"/>
<circle cx="215.2" cy="416.0" r="1.6" fill="#A85E35" fill-opacity="0.8"/>
<circle cx="115.7" cy="348.3" r="1.6" fill="#F06ABA" fill-opacity="0.55"/>
<circle cx="142.4" cy="400.2" r="1.6" fill="#F06ABA" fill-opacity="0.55"/>
<circle cx="125.9" cy="321.9" r="1.6" fill="#F06ABA" fill-opacity="0.55"/>
<circle cx="54.6" cy="337.5" r="1.6" fill="#F06ABA" fill-opacity="0.55"/>
<circle cx="79.6" cy="394.9" r="1.6" fill="#F06ABA" fill-opacity="0.55"/>
<circle cx="81.0" cy="394.5" r="1.6" fill="#F06ABA" fill-opacity="0.55"/>
<circle cx="99.0" cy="305.3" r="1.6" fill="#F06ABA" fill-opacity="0.55"/>
<circle cx="81.7" cy="340.0" r="1.6" fill="#F06ABA" fill-opacity="0.55"/>
<circle cx="116.5" cy="373.6" r="1.6" fill="#F06ABA" fill-opacity="0.55"/>
<circle cx="226.3" cy="395.0" r="1.6" fill="#A85E35" fill-opacity="0.8"/>
<circle cx="97.0" cy="319.9" r="1.6" fill="#F06ABA" fill-opacity="0.55"/>
<circle cx="109.7" cy="342.2" r="1.6" fill="#F06ABA" fill-opacity="0.55"/>
<circle cx="92.3" cy="356.1" r="1.6" fill="#F06ABA" fill-opacity="0.55"/>
<circle cx="109.9" cy="387.6" r="1.6" fill="#F06ABA" fill-opacity="0.55"/>
<circle cx="133.1" cy="406.8" r="1.6" fill="#F06ABA" fill-opacity="0.55"/>
<circle cx="64.3" cy="331.1" r="1.6" fill="#F06ABA" fill-opacity="0.55"/>
<circle cx="110.1" cy="305.9" r="1.6" fill="#F06ABA" fill-opacity="0.55"/>
<circle cx="106.9" cy="295.9" r="1.6" fill="#F06ABA" fill-opacity="0.55"/>
<circle cx="133.0" cy="388.3" r="1.6" fill="#A85E35" fill-opacity="0.8"/>
<circle cx="187.6" cy="356.2" r="1.6" fill="#F06ABA" fill-opacity="0.55"/>
<circle cx="95.9" cy="324.1" r="1.6" fill="#F06ABA" fill-opacity="0.55"/>
<circle cx="107.1" cy="293.6" r="1.6" fill="#F06ABA" fill-opacity="0.55"/>
<circle cx="106.9" cy="358.0" r="1.6" fill="#A85E35" fill-opacity="0.8"/>
<circle cx="70.2" cy="361.0" r="1.6" fill="#F06ABA" fill-opacity="0.55"/>
<circle cx="90.7" cy="296.7" r="1.6" fill="#F06ABA" fill-opacity="0.55"/>
<circle cx="110.2" cy="361.8" r="1.6" fill="#F06ABA" fill-opacity="0.55"/>
<circle cx="101.4" cy="406.0" r="1.6" fill="#F06ABA" fill-opacity="0.55"/>
<circle cx="100.6" cy="391.9" r="1.6" fill="#F06ABA" fill-opacity="0.55"/>
<circle cx="101.3" cy="277.0" r="1.6" fill="#F06ABA" fill-opacity="0.55"/>
<circle cx="70.3" cy="369.7" r="1.6" fill="#F06ABA" fill-opacity="0.55"/>
<circle cx="99.8" cy="337.0" r="1.6" fill="#F06ABA" fill-opacity="0.55"/>
<circle cx="139.1" cy="366.9" r="1.6" fill="#A85E35" fill-opacity="0.8"/>
<circle cx="73.5" cy="317.1" r="1.6" fill="#F06ABA" fill-opacity="0.55"/>
<circle cx="118.5" cy="381.0" r="1.6" fill="#F06ABA" fill-opacity="0.55"/>
<circle cx="134.1" cy="371.0" r="1.6" fill="#F06ABA" fill-opacity="0.55"/>
<circle cx="82.7" cy="334.3" r="1.6" fill="#F06ABA" fill-opacity="0.55"/>
<circle cx="106.1" cy="366.0" r="1.6" fill="#F06ABA" fill-opacity="0.55"/>
<circle cx="102.9" cy="398.7" r="1.6" fill="#F06ABA" fill-opacity="0.55"/>
<circle cx="94.8" cy="326.5" r="1.6" fill="#F06ABA" fill-opacity="0.55"/>
<circle cx="118.4" cy="307.8" r="1.6" fill="#F06ABA" fill-opacity="0.55"/>
<circle cx="169.9" cy="415.3" r="1.6" fill="#A85E35" fill-opacity="0.8"/>
<circle cx="88.7" cy="338.1" r="1.6" fill="#F06ABA" fill-opacity="0.55"/>
<circle cx="106.6" cy="332.3" r="1.6" fill="#F06ABA" fill-opacity="0.55"/>
<circle cx="89.4" cy="318.0" r="1.6" fill="#F06ABA" fill-opacity="0.55"/>
<circle cx="183.1" cy="415.3" r="1.6" fill="#A85E35" fill-opacity="0.8"/>
<circle cx="75.3" cy="315.1" r="1.6" fill="#F06ABA" fill-opacity="0.55"/>
<circle cx="98.0" cy="310.5" r="1.6" fill="#F06ABA" fill-opacity="0.55"/>
<circle cx="82.9" cy="355.5" r="1.6" fill="#F06ABA" fill-opacity="0.55"/>
<circle cx="126.3" cy="331.5" r="1.6" fill="#F06ABA" fill-opacity="0.55"/>
<circle cx="122.6" cy="314.1" r="1.6" fill="#F06ABA" fill-opacity="0.55"/>
<circle cx="70.0" cy="395.2" r="1.6" fill="#F06ABA" fill-opacity="0.55"/>
<circle cx="82.0" cy="365.5" r="1.6" fill="#F06ABA" fill-opacity="0.55"/>
<circle cx="79.7" cy="335.0" r="1.6" fill="#F06ABA" fill-opacity="0.55"/>
<circle cx="89.8" cy="336.6" r="1.6" fill="#F06ABA" fill-opacity="0.55"/>
<circle cx="108.3" cy="374.8" r="1.6" fill="#F06ABA" fill-opacity="0.55"/>
<circle cx="95.4" cy="324.3" r="1.6" fill="#F06ABA" fill-opacity="0.55"/>
<circle cx="79.2" cy="371.6" r="1.6" fill="#F06ABA" fill-opacity="0.55"/>
<circle cx="90.7" cy="321.0" r="1.6" fill="#F06ABA" fill-opacity="0.55"/>
<circle cx="98.7" cy="331.2" r="1.6" fill="#F06ABA" fill-opacity="0.55"/>
<circle cx="102.4" cy="398.5" r="1.6" fill="#F06ABA" fill-opacity="0.55"/>
<circle cx="94.6" cy="347.2" r="1.6" fill="#F06ABA" fill-opacity="0.55"/>
<circle cx="112.6" cy="307.7" r="1.6" fill="#F06ABA" fill-opacity="0.55"/>
<circle cx="107.7" cy="306.3" r="1.6" fill="#F06ABA" fill-opacity="0.55"/>
<circle cx="96.8" cy="395.5" r="1.6" fill="#F06ABA" fill-opacity="0.55"/>
<circle cx="94.2" cy="368.2" r="1.6" fill="#F06ABA" fill-opacity="0.55"/>
<circle cx="138.5" cy="417.0" r="1.6" fill="#A85E35" fill-opacity="0.8"/>
<circle cx="133.2" cy="368.8" r="1.6" fill="#A85E35" fill-opacity="0.8"/>
<circle cx="94.1" cy="336.5" r="1.6" fill="#F06ABA" fill-opacity="0.55"/>
<circle cx="130.0" cy="308.2" r="1.6" fill="#F06ABA" fill-opacity="0.55"/>
<circle cx="97.6" cy="357.1" r="1.6" fill="#F06ABA" fill-opacity="0.55"/>
<circle cx="93.0" cy="302.3" r="1.6" fill="#F06ABA" fill-opacity="0.55"/>
<circle cx="55.2" cy="378.5" r="1.6" fill="#F06ABA" fill-opacity="0.55"/>
<circle cx="88.5" cy="402.7" r="1.6" fill="#F06ABA" fill-opacity="0.55"/>
<circle cx="115.6" cy="400.2" r="1.6" fill="#F06ABA" fill-opacity="0.55"/>
<circle cx="111.1" cy="357.1" r="1.6" fill="#F06ABA" fill-opacity="0.55"/>
<circle cx="97.9" cy="323.4" r="1.6" fill="#F06ABA" fill-opacity="0.55"/>
<circle cx="143.6" cy="366.1" r="1.6" fill="#F06ABA" fill-opacity="0.55"/>
<circle cx="89.1" cy="321.3" r="1.6" fill="#F06ABA" fill-opacity="0.55"/>
<circle cx="106.4" cy="416.2" r="1.6" fill="#F06ABA" fill-opacity="0.55"/>
<circle cx="86.8" cy="395.1" r="1.6" fill="#F06ABA" fill-opacity="0.55"/>
<circle cx="81.7" cy="362.4" r="1.6" fill="#F06ABA" fill-opacity="0.55"/>
<circle cx="95.0" cy="298.2" r="1.6" fill="#F06ABA" fill-opacity="0.55"/>
<circle cx="86.7" cy="327.6" r="1.6" fill="#F06ABA" fill-opacity="0.55"/>
<circle cx="82.2" cy="304.4" r="1.6" fill="#F06ABA" fill-opacity="0.55"/>
<circle cx="81.5" cy="306.0" r="1.6" fill="#F06ABA" fill-opacity="0.55"/>
<circle cx="109.3" cy="388.5" r="1.6" fill="#F06ABA" fill-opacity="0.55"/>
<circle cx="120.3" cy="331.6" r="1.6" fill="#A85E35" fill-opacity="0.8"/>
<circle cx="94.1" cy="329.4" r="1.6" fill="#F06ABA" fill-opacity="0.55"/>
<circle cx="54.6" cy="412.5" r="1.6" fill="#F06ABA" fill-opacity="0.55"/>
<circle cx="74.8" cy="386.1" r="1.6" fill="#F06ABA" fill-opacity="0.55"/>
<circle cx="102.1" cy="327.2" r="1.6" fill="#F06ABA" fill-opacity="0.55"/>
<circle cx="101.6" cy="318.1" r="1.6" fill="#F06ABA" fill-opacity="0.55"/>
<circle cx="108.1" cy="356.0" r="1.6" fill="#F06ABA" fill-opacity="0.55"/>
<circle cx="98.2" cy="305.9" r="1.6" fill="#F06ABA" fill-opacity="0.55"/>
<circle cx="141.5" cy="331.2" r="1.6" fill="#F06ABA" fill-opacity="0.55"/>
<circle cx="73.0" cy="331.0" r="1.6" fill="#F06ABA" fill-opacity="0.55"/>
<circle cx="53.5" cy="379.2" r="1.6" fill="#F06ABA" fill-opacity="0.55"/>
<circle cx="121.0" cy="338.5" r="1.6" fill="#F06ABA" fill-opacity="0.55"/>
<circle cx="101.2" cy="332.7" r="1.6" fill="#F06ABA" fill-opacity="0.55"/>
<circle cx="120.6" cy="364.4" r="1.6" fill="#F06ABA" fill-opacity="0.55"/>
<circle cx="101.2" cy="332.1" r="1.6" fill="#F06ABA" fill-opacity="0.55"/>
<circle cx="127.5" cy="336.2" r="1.6" fill="#F06ABA" fill-opacity="0.55"/>
<circle cx="61.0" cy="402.7" r="1.6" fill="#F06ABA" fill-opacity="0.55"/>
<circle cx="81.5" cy="296.4" r="1.6" fill="#F06ABA" fill-opacity="0.55"/>
<circle cx="97.0" cy="302.8" r="1.6" fill="#F06ABA" fill-opacity="0.55"/>
<circle cx="129.8" cy="313.7" r="1.6" fill="#A85E35" fill-opacity="0.8"/>
<circle cx="79.9" cy="404.6" r="1.6" fill="#F06ABA" fill-opacity="0.55"/>
<circle cx="101.0" cy="375.3" r="1.6" fill="#F06ABA" fill-opacity="0.55"/>
<circle cx="96.2" cy="306.1" r="1.6" fill="#F06ABA" fill-opacity="0.55"/>
<circle cx="133.8" cy="370.3" r="1.6" fill="#F06ABA" fill-opacity="0.55"/>
<circle cx="115.2" cy="338.0" r="1.6" fill="#A85E35" fill-opacity="0.8"/>
<circle cx="80.1" cy="338.3" r="1.6" fill="#F06ABA" fill-opacity="0.55"/>
<circle cx="134.0" cy="356.8" r="1.6" fill="#F06ABA" fill-opacity="0.55"/>
<circle cx="149.0" cy="353.3" r="1.6" fill="#F06ABA" fill-opacity="0.55"/>
<circle cx="64.0" cy="369.9" r="1.6" fill="#F06ABA" fill-opacity="0.55"/>
<circle cx="218.5" cy="336.0" r="1.6" fill="#F06ABA" fill-opacity="0.55"/>
<circle cx="102.6" cy="364.1" r="1.6" fill="#F06ABA" fill-opacity="0.55"/>
<circle cx="68.4" cy="364.4" r="1.6" fill="#F06ABA" fill-opacity="0.55"/>
<circle cx="99.5" cy="362.4" r="1.6" fill="#F06ABA" fill-opacity="0.55"/>
<circle cx="176.0" cy="357.0" r="1.6" fill="#F06ABA" fill-opacity="0.55"/>
<circle cx="119.9" cy="370.0" r="1.6" fill="#F06ABA" fill-opacity="0.55"/>
<circle cx="82.8" cy="379.9" r="1.6" fill="#F06ABA" fill-opacity="0.55"/>
<circle cx="144.4" cy="408.3" r="1.6" fill="#F06ABA" fill-opacity="0.55"/>
<circle cx="104.2" cy="406.2" r="1.6" fill="#F06ABA" fill-opacity="0.55"/>
<circle cx="102.8" cy="355.6" r="1.6" fill="#F06ABA" fill-opacity="0.55"/>
<circle cx="125.8" cy="380.3" r="1.6" fill="#F06ABA" fill-opacity="0.55"/>
<circle cx="140.8" cy="396.2" r="1.6" fill="#F06ABA" fill-opacity="0.55"/>
<circle cx="92.7" cy="395.8" r="1.6" fill="#F06ABA" fill-opacity="0.55"/>
<circle cx="143.3" cy="398.7" r="1.6" fill="#F06ABA" fill-opacity="0.55"/>
<circle cx="98.9" cy="304.8" r="1.6" fill="#A85E35" fill-opacity="0.8"/>
<circle cx="103.7" cy="325.1" r="1.6" fill="#F06ABA" fill-opacity="0.55"/>
<circle cx="130.2" cy="363.5" r="1.6" fill="#F06ABA" fill-opacity="0.55"/>
<circle cx="91.5" cy="333.7" r="1.6" fill="#F06ABA" fill-opacity="0.55"/>
<circle cx="84.6" cy="372.7" r="1.6" fill="#F06ABA" fill-opacity="0.55"/>
<circle cx="111.9" cy="385.6" r="1.6" fill="#A85E35" fill-opacity="0.8"/>
<circle cx="111.5" cy="387.2" r="1.6" fill="#F06ABA" fill-opacity="0.55"/>
<circle cx="112.7" cy="374.0" r="1.6" fill="#F06ABA" fill-opacity="0.55"/>
<circle cx="106.3" cy="374.4" r="1.6" fill="#F06ABA" fill-opacity="0.55"/>
<circle cx="93.9" cy="307.4" r="1.6" fill="#F06ABA" fill-opacity="0.55"/>
<circle cx="99.7" cy="405.1" r="1.6" fill="#F06ABA" fill-opacity="0.55"/>
<circle cx="115.7" cy="392.9" r="1.6" fill="#F06ABA" fill-opacity="0.55"/>
<circle cx="103.3" cy="370.5" r="1.6" fill="#F06ABA" fill-opacity="0.55"/>
<circle cx="80.2" cy="345.1" r="1.6" fill="#F06ABA" fill-opacity="0.55"/>
<circle cx="72.9" cy="366.6" r="1.6" fill="#F06ABA" fill-opacity="0.55"/>
<circle cx="101.1" cy="413.2" r="1.6" fill="#F06ABA" fill-opacity="0.55"/>
<circle cx="117.6" cy="311.4" r="1.6" fill="#F06ABA" fill-opacity="0.55"/>
<circle cx="87.0" cy="372.3" r="1.6" fill="#F06ABA" fill-opacity="0.55"/>
<circle cx="116.1" cy="333.7" r="1.6" fill="#A85E35" fill-opacity="0.8"/>
<circle cx="88.0" cy="300.7" r="1.6" fill="#F06ABA" fill-opacity="0.55"/>
<circle cx="108.2" cy="311.2" r="1.6" fill="#F06ABA" fill-opacity="0.55"/>
<circle cx="91.1" cy="366.4" r="1.6" fill="#F06ABA" fill-opacity="0.55"/>
<circle cx="100.9" cy="330.0" r="1.6" fill="#F06ABA" fill-opacity="0.55"/>
<circle cx="96.9" cy="327.9" r="1.6" fill="#F06ABA" fill-opacity="0.55"/>
<circle cx="111.7" cy="406.4" r="1.6" fill="#F06ABA" fill-opacity="0.55"/>
<circle cx="121.3" cy="301.7" r="1.6" fill="#F06ABA" fill-opacity="0.55"/>
<circle cx="100.9" cy="377.8" r="1.6" fill="#F06ABA" fill-opacity="0.55"/>
<circle cx="104.4" cy="385.9" r="1.6" fill="#F06ABA" fill-opacity="0.55"/>
<circle cx="112.8" cy="366.4" r="1.6" fill="#A85E35" fill-opacity="0.8"/>
<circle cx="116.2" cy="361.2" r="1.6" fill="#F06ABA" fill-opacity="0.55"/>
<circle cx="94.3" cy="396.3" r="1.6" fill="#F06ABA" fill-opacity="0.55"/>
<circle cx="118.0" cy="320.6" r="1.6" fill="#F06ABA" fill-opacity="0.55"/>
<circle cx="73.9" cy="402.3" r="1.6" fill="#F06ABA" fill-opacity="0.55"/>
<circle cx="57.3" cy="400.5" r="1.6" fill="#F06ABA" fill-opacity="0.55"/>
<circle cx="90.3" cy="342.7" r="1.6" fill="#F06ABA" fill-opacity="0.55"/>
<circle cx="145.6" cy="357.0" r="1.6" fill="#A85E35" fill-opacity="0.8"/>
<circle cx="94.3" cy="349.9" r="1.6" fill="#F06ABA" fill-opacity="0.55"/>
<circle cx="67.6" cy="400.9" r="1.6" fill="#F06ABA" fill-opacity="0.55"/>
<circle cx="119.0" cy="380.1" r="1.6" fill="#F06ABA" fill-opacity="0.55"/>
<circle cx="102.3" cy="336.0" r="1.6" fill="#F06ABA" fill-opacity="0.55"/>
<circle cx="101.5" cy="357.2" r="1.6" fill="#F06ABA" fill-opacity="0.55"/>
<circle cx="106.6" cy="365.6" r="1.6" fill="#F06ABA" fill-opacity="0.55"/>
<circle cx="89.0" cy="369.1" r="1.6" fill="#F06ABA" fill-opacity="0.55"/>
<circle cx="109.5" cy="339.7" r="1.6" fill="#F06ABA" fill-opacity="0.55"/>
<circle cx="98.7" cy="348.4" r="1.6" fill="#F06ABA" fill-opacity="0.55"/>
<circle cx="98.1" cy="358.8" r="1.6" fill="#F06ABA" fill-opacity="0.55"/>
<circle cx="62.1" cy="404.1" r="1.6" fill="#F06ABA" fill-opacity="0.55"/>
<circle cx="120.1" cy="333.1" r="1.6" fill="#F06ABA" fill-opacity="0.55"/>
<circle cx="63.2" cy="320.5" r="1.6" fill="#F06ABA" fill-opacity="0.55"/>
<circle cx="99.2" cy="352.4" r="1.6" fill="#F06ABA" fill-opacity="0.55"/>
<circle cx="114.1" cy="310.6" r="1.6" fill="#A85E35" fill-opacity="0.8"/>
<circle cx="87.9" cy="333.4" r="1.6" fill="#F06ABA" fill-opacity="0.55"/>
<circle cx="122.1" cy="341.6" r="1.6" fill="#F06ABA" fill-opacity="0.55"/>
<circle cx="125.1" cy="344.1" r="1.6" fill="#F06ABA" fill-opacity="0.55"/>
<circle cx="144.8" cy="327.8" r="1.6" fill="#F06ABA" fill-opacity="0.55"/>
<circle cx="106.5" cy="394.8" r="1.6" fill="#F06ABA" fill-opacity="0.55"/>
<circle cx="116.6" cy="353.9" r="1.6" fill="#F06ABA" fill-opacity="0.55"/>
<circle cx="105.8" cy="328.5" r="1.6" fill="#F06ABA" fill-opacity="0.55"/>
<circle cx="115.0" cy="312.3" r="1.6" fill="#F06ABA" fill-opacity="0.55"/>
<circle cx="127.9" cy="367.5" r="1.6" fill="#A85E35" fill-opacity="0.8"/>
<circle cx="116.9" cy="309.0" r="1.6" fill="#F06ABA" fill-opacity="0.55"/>
<circle cx="122.4" cy="371.7" r="1.6" fill="#F06ABA" fill-opacity="0.55"/>
<circle cx="94.1" cy="355.4" r="1.6" fill="#F06ABA" fill-opacity="0.55"/>
<circle cx="69.7" cy="364.5" r="1.6" fill="#F06ABA" fill-opacity="0.55"/>
<circle cx="75.5" cy="381.3" r="1.6" fill="#F06ABA" fill-opacity="0.55"/>
<circle cx="99.0" cy="334.2" r="1.6" fill="#F06ABA" fill-opacity="0.55"/>
<circle cx="88.9" cy="377.6" r="1.6" fill="#F06ABA" fill-opacity="0.55"/>
<circle cx="101.3" cy="415.1" r="1.6" fill="#F06ABA" fill-opacity="0.55"/>
<circle cx="94.6" cy="343.3" r="1.6" fill="#F06ABA" fill-opacity="0.55"/>
<circle cx="118.6" cy="334.4" r="1.6" fill="#F06ABA" fill-opacity="0.55"/>
<circle cx="60.0" cy="335.8" r="1.6" fill="#F06ABA" fill-opacity="0.55"/>
<circle cx="80.7" cy="407.9" r="1.6" fill="#F06ABA" fill-opacity="0.55"/>
<circle cx="114.2" cy="310.5" r="1.6" fill="#F06ABA" fill-opacity="0.55"/>
<circle cx="168.0" cy="389.0" r="1.6" fill="#A85E35" fill-opacity="0.8"/>
<circle cx="81.4" cy="393.7" r="1.6" fill="#F06ABA" fill-opacity="0.55"/>
<circle cx="99.7" cy="361.4" r="1.6" fill="#F06ABA" fill-opacity="0.55"/>
<circle cx="87.3" cy="390.7" r="1.6" fill="#F06ABA" fill-opacity="0.55"/>
<circle cx="100.3" cy="387.9" r="1.6" fill="#F06ABA" fill-opacity="0.55"/>
<circle cx="118.9" cy="323.0" r="1.6" fill="#F06ABA" fill-opacity="0.55"/>
<circle cx="106.5" cy="377.7" r="1.6" fill="#F06ABA" fill-opacity="0.55"/>
<circle cx="116.7" cy="321.1" r="1.6" fill="#F06ABA" fill-opacity="0.55"/>
<circle cx="103.9" cy="335.2" r="1.6" fill="#F06ABA" fill-opacity="0.55"/>
<circle cx="104.5" cy="342.6" r="1.6" fill="#F06ABA" fill-opacity="0.55"/>
<circle cx="68.9" cy="367.2" r="1.6" fill="#F06ABA" fill-opacity="0.55"/>
<circle cx="97.2" cy="398.0" r="1.6" fill="#F06ABA" fill-opacity="0.55"/>
<circle cx="113.4" cy="413.2" r="1.6" fill="#F06ABA" fill-opacity="0.55"/>
<circle cx="96.7" cy="364.4" r="1.6" fill="#F06ABA" fill-opacity="0.55"/>
<circle cx="117.0" cy="336.4" r="1.6" fill="#F06ABA" fill-opacity="0.55"/>
<circle cx="107.3" cy="404.9" r="1.6" fill="#F06ABA" fill-opacity="0.55"/>
<circle cx="104.3" cy="397.6" r="1.6" fill="#F06ABA" fill-opacity="0.55"/>
<circle cx="111.2" cy="310.5" r="1.6" fill="#F06ABA" fill-opacity="0.55"/>
<circle cx="121.4" cy="349.3" r="1.6" fill="#A85E35" fill-opacity="0.8"/>
<circle cx="129.7" cy="316.9" r="1.6" fill="#F06ABA" fill-opacity="0.55"/>
<circle cx="97.2" cy="334.8" r="1.6" fill="#F06ABA" fill-opacity="0.55"/>
<circle cx="87.5" cy="362.3" r="1.6" fill="#F06ABA" fill-opacity="0.55"/>
<circle cx="100.1" cy="344.6" r="1.6" fill="#F06ABA" fill-opacity="0.55"/>
<circle cx="150.0" cy="413.0" r="1.6" fill="#F06ABA" fill-opacity="0.55"/>
<circle cx="90.2" cy="343.9" r="1.6" fill="#F06ABA" fill-opacity="0.55"/>
<circle cx="123.8" cy="350.6" r="1.6" fill="#F06ABA" fill-opacity="0.55"/>
<circle cx="142.1" cy="354.2" r="1.6" fill="#F06ABA" fill-opacity="0.55"/>
<circle cx="100.8" cy="327.7" r="1.6" fill="#F06ABA" fill-opacity="0.55"/>
<circle cx="76.3" cy="335.2" r="1.6" fill="#F06ABA" fill-opacity="0.55"/>
<circle cx="98.0" cy="393.1" r="1.6" fill="#A85E35" fill-opacity="0.8"/>
<circle cx="146.0" cy="373.6" r="1.6" fill="#A85E35" fill-opacity="0.8"/>
<circle cx="104.3" cy="366.7" r="1.6" fill="#F06ABA" fill-opacity="0.55"/>
<circle cx="122.1" cy="400.6" r="1.6" fill="#F06ABA" fill-opacity="0.55"/>
<circle cx="118.6" cy="322.1" r="1.6" fill="#F06ABA" fill-opacity="0.55"/>
<circle cx="120.3" cy="338.6" r="1.6" fill="#F06ABA" fill-opacity="0.55"/>
<circle cx="80.9" cy="317.1" r="1.6" fill="#F06ABA" fill-opacity="0.55"/>
<circle cx="122.3" cy="339.5" r="1.6" fill="#F06ABA" fill-opacity="0.55"/>
<circle cx="57.1" cy="394.2" r="1.6" fill="#F06ABA" fill-opacity="0.55"/>
<circle cx="101.4" cy="302.0" r="1.6" fill="#F06ABA" fill-opacity="0.55"/>
<circle cx="94.8" cy="372.5" r="1.6" fill="#F06ABA" fill-opacity="0.55"/>
<circle cx="114.1" cy="330.4" r="1.6" fill="#F06ABA" fill-opacity="0.55"/>
<circle cx="179.6" cy="302.4" r="1.6" fill="#F06ABA" fill-opacity="0.55"/>
<circle cx="102.0" cy="320.9" r="1.6" fill="#F06ABA" fill-opacity="0.55"/>
<circle cx="113.7" cy="396.8" r="1.6" fill="#F06ABA" fill-opacity="0.55"/>
<circle cx="97.9" cy="310.6" r="1.6" fill="#F06ABA" fill-opacity="0.55"/>
<circle cx="77.9" cy="333.6" r="1.6" fill="#F06ABA" fill-opacity="0.55"/>
<circle cx="111.7" cy="327.8" r="1.6" fill="#F06ABA" fill-opacity="0.55"/>
<circle cx="134.9" cy="373.9" r="1.6" fill="#A85E35" fill-opacity="0.8"/>
<circle cx="106.0" cy="323.3" r="1.6" fill="#F06ABA" fill-opacity="0.55"/>
<circle cx="144.3" cy="344.5" r="1.6" fill="#F06ABA" fill-opacity="0.55"/>
<circle cx="93.7" cy="411.8" r="1.6" fill="#F06ABA" fill-opacity="0.55"/>
<circle cx="64.7" cy="411.5" r="1.6" fill="#F06ABA" fill-opacity="0.55"/>
<circle cx="132.9" cy="386.7" r="1.6" fill="#F06ABA" fill-opacity="0.55"/>
<circle cx="89.4" cy="356.6" r="1.6" fill="#F06ABA" fill-opacity="0.55"/>
<circle cx="109.1" cy="308.4" r="1.6" fill="#F06ABA" fill-opacity="0.55"/>
<circle cx="114.0" cy="328.4" r="1.6" fill="#F06ABA" fill-opacity="0.55"/>
<circle cx="101.4" cy="311.7" r="1.6" fill="#F06ABA" fill-opacity="0.55"/>
<circle cx="103.7" cy="331.5" r="1.6" fill="#F06ABA" fill-opacity="0.55"/>
<circle cx="73.2" cy="350.8" r="1.6" fill="#F06ABA" fill-opacity="0.55"/>
<circle cx="82.9" cy="387.9" r="1.6" fill="#F06ABA" fill-opacity="0.55"/>
<circle cx="85.8" cy="384.6" r="1.6" fill="#F06ABA" fill-opacity="0.55"/>
<circle cx="84.0" cy="348.1" r="1.6" fill="#F06ABA" fill-opacity="0.55"/>
<circle cx="108.3" cy="354.7" r="1.6" fill="#F06ABA" fill-opacity="0.55"/>
<circle cx="107.7" cy="313.9" r="1.6" fill="#F06ABA" fill-opacity="0.55"/>
<circle cx="105.2" cy="394.2" r="1.6" fill="#F06ABA" fill-opacity="0.55"/>
<circle cx="109.4" cy="336.8" r="1.6" fill="#F06ABA" fill-opacity="0.55"/>
<circle cx="136.3" cy="326.2" r="1.6" fill="#F06ABA" fill-opacity="0.55"/>
<circle cx="103.9" cy="313.8" r="1.6" fill="#F06ABA" fill-opacity="0.55"/>
<circle cx="112.5" cy="342.6" r="1.6" fill="#F06ABA" fill-opacity="0.55"/>
<circle cx="79.4" cy="369.3" r="1.6" fill="#F06ABA" fill-opacity="0.55"/>
<circle cx="82.1" cy="333.5" r="1.6" fill="#F06ABA" fill-opacity="0.55"/>
<circle cx="74.3" cy="390.3" r="1.6" fill="#F06ABA" fill-opacity="0.55"/>
<circle cx="121.2" cy="373.6" r="1.6" fill="#A85E35" fill-opacity="0.8"/>
<circle cx="80.1" cy="369.2" r="1.6" fill="#F06ABA" fill-opacity="0.55"/>
<circle cx="122.3" cy="374.9" r="1.6" fill="#F06ABA" fill-opacity="0.55"/>
<circle cx="92.0" cy="354.9" r="1.6" fill="#F06ABA" fill-opacity="0.55"/>
<circle cx="109.5" cy="365.2" r="1.6" fill="#F06ABA" fill-opacity="0.55"/>
<circle cx="123.0" cy="358.4" r="1.6" fill="#F06ABA" fill-opacity="0.55"/>
<circle cx="90.7" cy="306.5" r="1.6" fill="#F06ABA" fill-opacity="0.55"/>
<circle cx="126.6" cy="348.0" r="1.6" fill="#F06ABA" fill-opacity="0.55"/>
<circle cx="109.5" cy="337.6" r="1.6" fill="#F06ABA" fill-opacity="0.55"/>
<circle cx="117.4" cy="358.8" r="1.6" fill="#F06ABA" fill-opacity="0.55"/>
<circle cx="122.7" cy="336.0" r="1.6" fill="#F06ABA" fill-opacity="0.55"/>
<circle cx="109.6" cy="300.6" r="1.6" fill="#F06ABA" fill-opacity="0.55"/>
<circle cx="78.2" cy="383.0" r="1.6" fill="#F06ABA" fill-opacity="0.55"/>
<circle cx="202.6" cy="410.3" r="1.6" fill="#A85E35" fill-opacity="0.8"/>
<circle cx="159.6" cy="290.2" r="1.6" fill="#F06ABA" fill-opacity="0.55"/>
<circle cx="80.7" cy="348.5" r="1.6" fill="#F06ABA" fill-opacity="0.55"/>
<circle cx="76.7" cy="357.3" r="1.6" fill="#F06ABA" fill-opacity="0.55"/>
<circle cx="101.9" cy="354.5" r="1.6" fill="#F06ABA" fill-opacity="0.55"/>
<circle cx="86.0" cy="316.1" r="1.6" fill="#F06ABA" fill-opacity="0.55"/>
<circle cx="109.5" cy="382.7" r="1.6" fill="#F06ABA" fill-opacity="0.55"/>
<circle cx="94.6" cy="338.0" r="1.6" fill="#F06ABA" fill-opacity="0.55"/>
<circle cx="97.3" cy="331.0" r="1.6" fill="#F06ABA" fill-opacity="0.55"/>
<circle cx="126.5" cy="310.2" r="1.6" fill="#F06ABA" fill-opacity="0.55"/>
<circle cx="66.7" cy="334.6" r="1.6" fill="#F06ABA" fill-opacity="0.55"/>
<circle cx="97.2" cy="393.3" r="1.6" fill="#F06ABA" fill-opacity="0.55"/>
<circle cx="131.6" cy="398.1" r="1.6" fill="#F06ABA" fill-opacity="0.55"/>
<circle cx="104.9" cy="370.8" r="1.6" fill="#F06ABA" fill-opacity="0.55"/>
<circle cx="90.2" cy="304.3" r="1.6" fill="#F06ABA" fill-opacity="0.55"/>
<circle cx="89.8" cy="372.9" r="1.6" fill="#F06ABA" fill-opacity="0.55"/>
<circle cx="116.7" cy="306.8" r="1.6" fill="#F06ABA" fill-opacity="0.55"/>
<circle cx="103.5" cy="415.2" r="1.6" fill="#F06ABA" fill-opacity="0.55"/>
<circle cx="97.2" cy="304.0" r="1.6" fill="#F06ABA" fill-opacity="0.55"/>
<circle cx="162.0" cy="414.0" r="1.6" fill="#A85E35" fill-opacity="0.8"/>
<circle cx="110.5" cy="409.6" r="1.6" fill="#F06ABA" fill-opacity="0.55"/>
<circle cx="121.6" cy="341.6" r="1.6" fill="#F06ABA" fill-opacity="0.55"/>
<circle cx="149.9" cy="379.1" r="1.6" fill="#F06ABA" fill-opacity="0.55"/>
<circle cx="158.0" cy="318.5" r="1.6" fill="#F06ABA" fill-opacity="0.55"/>
<circle cx="116.0" cy="317.6" r="1.6" fill="#F06ABA" fill-opacity="0.55"/>
<circle cx="109.4" cy="397.7" r="1.6" fill="#F06ABA" fill-opacity="0.55"/>
<circle cx="116.8" cy="359.5" r="1.6" fill="#F06ABA" fill-opacity="0.55"/>
<circle cx="163.9" cy="398.2" r="1.6" fill="#F06ABA" fill-opacity="0.55"/>
<circle cx="132.3" cy="370.8" r="1.6" fill="#F06ABA" fill-opacity="0.55"/>
<circle cx="119.2" cy="380.8" r="1.6" fill="#F06ABA" fill-opacity="0.55"/>
<circle cx="123.8" cy="357.3" r="1.6" fill="#F06ABA" fill-opacity="0.55"/>
<circle cx="88.3" cy="338.2" r="1.6" fill="#F06ABA" fill-opacity="0.55"/>
<circle cx="115.5" cy="351.4" r="1.6" fill="#A85E35" fill-opacity="0.8"/>
<circle cx="109.3" cy="369.9" r="1.6" fill="#F06ABA" fill-opacity="0.55"/>
<circle cx="96.6" cy="317.1" r="1.6" fill="#F06ABA" fill-opacity="0.55"/>
<circle cx="80.4" cy="313.3" r="1.6" fill="#F06ABA" fill-opacity="0.55"/>
<circle cx="96.4" cy="362.8" r="1.6" fill="#F06ABA" fill-opacity="0.55"/>
<circle cx="73.8" cy="327.0" r="1.6" fill="#F06ABA" fill-opacity="0.55"/>
<circle cx="147.6" cy="378.4" r="1.6" fill="#A85E35" fill-opacity="0.8"/>
<circle cx="119.6" cy="328.8" r="1.6" fill="#F06ABA" fill-opacity="0.55"/>
<circle cx="96.2" cy="380.5" r="1.6" fill="#F06ABA" fill-opacity="0.55"/>
<circle cx="97.1" cy="307.3" r="1.6" fill="#F06ABA" fill-opacity="0.55"/>
<circle cx="129.1" cy="387.3" r="1.6" fill="#F06ABA" fill-opacity="0.55"/>
<circle cx="102.0" cy="367.5" r="1.6" fill="#F06ABA" fill-opacity="0.55"/>
<circle cx="143.0" cy="393.3" r="1.6" fill="#F06ABA" fill-opacity="0.55"/>
<circle cx="100.5" cy="302.4" r="1.6" fill="#F06ABA" fill-opacity="0.55"/>
<circle cx="69.8" cy="377.5" r="1.6" fill="#F06ABA" fill-opacity="0.55"/>
<circle cx="78.9" cy="352.2" r="1.6" fill="#F06ABA" fill-opacity="0.55"/>
<circle cx="54.0" cy="375.0" r="1.6" fill="#F06ABA" fill-opacity="0.55"/>
<circle cx="71.9" cy="406.0" r="1.6" fill="#F06ABA" fill-opacity="0.55"/>
<circle cx="75.4" cy="346.1" r="1.6" fill="#F06ABA" fill-opacity="0.55"/>
<circle cx="101.0" cy="310.6" r="1.6" fill="#F06ABA" fill-opacity="0.55"/>
<circle cx="71.6" cy="369.5" r="1.6" fill="#F06ABA" fill-opacity="0.55"/>
<circle cx="110.2" cy="342.5" r="1.6" fill="#F06ABA" fill-opacity="0.55"/>
<circle cx="104.7" cy="371.6" r="1.6" fill="#F06ABA" fill-opacity="0.55"/>
<circle cx="125.7" cy="361.1" r="1.6" fill="#F06ABA" fill-opacity="0.55"/>
<circle cx="95.3" cy="316.4" r="1.6" fill="#F06ABA" fill-opacity="0.55"/>
<circle cx="248.0" cy="415.3" r="1.6" fill="#A85E35" fill-opacity="0.8"/>
<circle cx="71.8" cy="342.3" r="1.6" fill="#F06ABA" fill-opacity="0.55"/>
<circle cx="124.1" cy="391.5" r="1.6" fill="#F06ABA" fill-opacity="0.55"/>
<circle cx="105.0" cy="387.1" r="1.6" fill="#F06ABA" fill-opacity="0.55"/>
<circle cx="100.8" cy="292.8" r="1.6" fill="#F06ABA" fill-opacity="0.55"/>
<circle cx="114.3" cy="412.4" r="1.6" fill="#F06ABA" fill-opacity="0.55"/>
<circle cx="101.3" cy="330.9" r="1.6" fill="#F06ABA" fill-opacity="0.55"/>
<circle cx="73.0" cy="402.4" r="1.6" fill="#F06ABA" fill-opacity="0.55"/>
<circle cx="107.3" cy="373.9" r="1.6" fill="#F06ABA" fill-opacity="0.55"/>
<circle cx="120.5" cy="334.6" r="1.6" fill="#A85E35" fill-opacity="0.8"/>
<circle cx="109.5" cy="317.2" r="1.6" fill="#A85E35" fill-opacity="0.8"/>
<circle cx="91.7" cy="387.4" r="1.6" fill="#F06ABA" fill-opacity="0.55"/>
<circle cx="97.8" cy="407.3" r="1.6" fill="#F06ABA" fill-opacity="0.55"/>
<circle cx="114.3" cy="324.3" r="1.6" fill="#A85E35" fill-opacity="0.8"/>
<circle cx="118.5" cy="360.6" r="1.6" fill="#A85E35" fill-opacity="0.8"/>
<circle cx="197.5" cy="366.0" r="1.6" fill="#F06ABA" fill-opacity="0.55"/>
<circle cx="65.3" cy="324.9" r="1.6" fill="#F06ABA" fill-opacity="0.55"/>
<circle cx="101.0" cy="362.0" r="1.6" fill="#F06ABA" fill-opacity="0.55"/>
<circle cx="79.4" cy="317.8" r="1.6" fill="#F06ABA" fill-opacity="0.55"/>
<circle cx="103.9" cy="362.4" r="1.6" fill="#F06ABA" fill-opacity="0.55"/>
<circle cx="75.2" cy="322.3" r="1.6" fill="#F06ABA" fill-opacity="0.55"/>
<circle cx="135.3" cy="346.3" r="1.6" fill="#F06ABA" fill-opacity="0.55"/>
<circle cx="100.6" cy="394.0" r="1.6" fill="#F06ABA" fill-opacity="0.55"/>
<circle cx="108.6" cy="412.6" r="1.6" fill="#F06ABA" fill-opacity="0.55"/>
<circle cx="74.7" cy="320.0" r="1.6" fill="#F06ABA" fill-opacity="0.55"/>
<circle cx="137.9" cy="343.6" r="1.6" fill="#F06ABA" fill-opacity="0.55"/>
<circle cx="118.5" cy="344.6" r="1.6" fill="#A85E35" fill-opacity="0.8"/>
<circle cx="92.3" cy="378.4" r="1.6" fill="#F06ABA" fill-opacity="0.55"/>
<circle cx="95.7" cy="328.5" r="1.6" fill="#F06ABA" fill-opacity="0.55"/>
<circle cx="59.8" cy="395.4" r="1.6" fill="#F06ABA" fill-opacity="0.55"/>
<circle cx="104.5" cy="354.1" r="1.6" fill="#F06ABA" fill-opacity="0.55"/>
<circle cx="135.5" cy="406.9" r="1.6" fill="#F06ABA" fill-opacity="0.55"/>
<circle cx="83.7" cy="296.2" r="1.6" fill="#F06ABA" fill-opacity="0.55"/>
<circle cx="124.0" cy="311.1" r="1.6" fill="#F06ABA" fill-opacity="0.55"/>
<circle cx="101.1" cy="332.3" r="1.6" fill="#A85E35" fill-opacity="0.8"/>
<circle cx="99.7" cy="343.4" r="1.6" fill="#F06ABA" fill-opacity="0.55"/>
<circle cx="128.4" cy="389.0" r="1.6" fill="#F06ABA" fill-opacity="0.55"/>
<circle cx="120.5" cy="302.7" r="1.6" fill="#F06ABA" fill-opacity="0.55"/>
<circle cx="110.0" cy="373.5" r="1.6" fill="#F06ABA" fill-opacity="0.55"/>
<circle cx="82.6" cy="362.7" r="1.6" fill="#F06ABA" fill-opacity="0.55"/>
<circle cx="116.3" cy="363.0" r="1.6" fill="#F06ABA" fill-opacity="0.55"/>
<circle cx="122.3" cy="356.3" r="1.6" fill="#F06ABA" fill-opacity="0.55"/>
<circle cx="95.6" cy="361.2" r="1.6" fill="#F06ABA" fill-opacity="0.55"/>
<circle cx="89.3" cy="318.6" r="1.6" fill="#F06ABA" fill-opacity="0.55"/>
<circle cx="131.2" cy="354.3" r="1.6" fill="#F06ABA" fill-opacity="0.55"/>
<circle cx="122.5" cy="355.6" r="1.6" fill="#A85E35" fill-opacity="0.8"/>
<circle cx="99.9" cy="388.8" r="1.6" fill="#F06ABA" fill-opacity="0.55"/>
<circle cx="92.3" cy="348.3" r="1.6" fill="#F06ABA" fill-opacity="0.55"/>
<circle cx="96.2" cy="329.8" r="1.6" fill="#F06ABA" fill-opacity="0.55"/>
<circle cx="125.5" cy="373.0" r="1.6" fill="#A85E35" fill-opacity="0.8"/>
<circle cx="100.7" cy="351.2" r="1.6" fill="#F06ABA" fill-opacity="0.55"/>
<circle cx="78.9" cy="385.1" r="1.6" fill="#F06ABA" fill-opacity="0.55"/>
<circle cx="73.4" cy="336.4" r="1.6" fill="#F06ABA" fill-opacity="0.55"/>
<circle cx="64.1" cy="365.6" r="1.6" fill="#F06ABA" fill-opacity="0.55"/>
<circle cx="81.6" cy="329.7" r="1.6" fill="#F06ABA" fill-opacity="0.55"/>
<circle cx="134.5" cy="357.2" r="1.6" fill="#F06ABA" fill-opacity="0.55"/>
<circle cx="100.0" cy="377.2" r="1.6" fill="#F06ABA" fill-opacity="0.55"/>
<circle cx="103.1" cy="358.0" r="1.6" fill="#F06ABA" fill-opacity="0.55"/>
<circle cx="190.3" cy="323.2" r="1.6" fill="#A85E35" fill-opacity="0.8"/>
<circle cx="85.2" cy="338.1" r="1.6" fill="#F06ABA" fill-opacity="0.55"/>
<circle cx="85.6" cy="414.7" r="1.6" fill="#F06ABA" fill-opacity="0.55"/>
<circle cx="123.2" cy="332.7" r="1.6" fill="#F06ABA" fill-opacity="0.55"/>
<circle cx="119.1" cy="369.8" r="1.6" fill="#F06ABA" fill-opacity="0.55"/>
<circle cx="134.2" cy="338.1" r="1.6" fill="#F06ABA" fill-opacity="0.55"/>
<circle cx="85.8" cy="317.3" r="1.6" fill="#F06ABA" fill-opacity="0.55"/>
<circle cx="93.1" cy="303.8" r="1.6" fill="#F06ABA" fill-opacity="0.55"/>
<circle cx="194.4" cy="408.4" r="1.6" fill="#A85E35" fill-opacity="0.8"/>
<circle cx="137.7" cy="367.2" r="1.6" fill="#A85E35" fill-opacity="0.8"/>
<circle cx="114.2" cy="398.9" r="1.6" fill="#F06ABA" fill-opacity="0.55"/>
<circle cx="77.8" cy="379.9" r="1.6" fill="#F06ABA" fill-opacity="0.55"/>
<circle cx="84.2" cy="330.6" r="1.6" fill="#F06ABA" fill-opacity="0.55"/>
<circle cx="106.5" cy="379.6" r="1.6" fill="#F06ABA" fill-opacity="0.55"/>
<circle cx="98.0" cy="356.6" r="1.6" fill="#F06ABA" fill-opacity="0.55"/>
<circle cx="98.3" cy="401.5" r="1.6" fill="#F06ABA" fill-opacity="0.55"/>
<circle cx="81.6" cy="322.1" r="1.6" fill="#F06ABA" fill-opacity="0.55"/>
<circle cx="108.5" cy="344.6" r="1.6" fill="#F06ABA" fill-opacity="0.55"/>
<circle cx="106.0" cy="298.7" r="1.6" fill="#F06ABA" fill-opacity="0.55"/>
<circle cx="130.4" cy="412.3" r="1.6" fill="#A85E35" fill-opacity="0.8"/>
<circle cx="88.7" cy="388.6" r="1.6" fill="#F06ABA" fill-opacity="0.55"/>
<circle cx="75.7" cy="376.3" r="1.6" fill="#F06ABA" fill-opacity="0.55"/>
<circle cx="96.0" cy="381.0" r="1.6" fill="#F06ABA" fill-opacity="0.55"/>
<circle cx="95.7" cy="316.5" r="1.6" fill="#F06ABA" fill-opacity="0.55"/>
<circle cx="137.7" cy="356.2" r="1.6" fill="#F06ABA" fill-opacity="0.55"/>
<circle cx="122.9" cy="303.9" r="1.6" fill="#F06ABA" fill-opacity="0.55"/>
<circle cx="79.8" cy="361.5" r="1.6" fill="#F06ABA" fill-opacity="0.55"/>
<circle cx="109.8" cy="388.2" r="1.6" fill="#F06ABA" fill-opacity="0.55"/>
<circle cx="122.2" cy="326.9" r="1.6" fill="#F06ABA" fill-opacity="0.55"/>
<circle cx="105.4" cy="356.3" r="1.6" fill="#F06ABA" fill-opacity="0.55"/>
<circle cx="60.5" cy="346.3" r="1.6" fill="#F06ABA" fill-opacity="0.55"/>
<circle cx="94.2" cy="380.9" r="1.6" fill="#F06ABA" fill-opacity="0.55"/>
<circle cx="95.1" cy="317.7" r="1.6" fill="#F06ABA" fill-opacity="0.55"/>
<circle cx="127.4" cy="349.7" r="1.6" fill="#F06ABA" fill-opacity="0.55"/>
<circle cx="70.7" cy="362.1" r="1.6" fill="#F06ABA" fill-opacity="0.55"/>
<circle cx="132.3" cy="371.8" r="1.6" fill="#F06ABA" fill-opacity="0.55"/>
<circle cx="97.7" cy="397.2" r="1.6" fill="#F06ABA" fill-opacity="0.55"/>
<circle cx="107.3" cy="397.6" r="1.6" fill="#F06ABA" fill-opacity="0.55"/>
<circle cx="112.6" cy="397.4" r="1.6" fill="#F06ABA" fill-opacity="0.55"/>
<circle cx="118.7" cy="408.8" r="1.6" fill="#F06ABA" fill-opacity="0.55"/>
<circle cx="100.5" cy="374.7" r="1.6" fill="#F06ABA" fill-opacity="0.55"/>
<circle cx="152.2" cy="401.3" r="1.6" fill="#F06ABA" fill-opacity="0.55"/>
<circle cx="66.9" cy="317.7" r="1.6" fill="#F06ABA" fill-opacity="0.55"/>
<circle cx="69.1" cy="340.6" r="1.6" fill="#F06ABA" fill-opacity="0.55"/>
<circle cx="116.0" cy="301.6" r="1.6" fill="#F06ABA" fill-opacity="0.55"/>
<circle cx="106.3" cy="342.5" r="1.6" fill="#F06ABA" fill-opacity="0.55"/>
<circle cx="196.4" cy="402.0" r="1.6" fill="#F06ABA" fill-opacity="0.55"/>
<circle cx="118.2" cy="307.2" r="1.6" fill="#F06ABA" fill-opacity="0.55"/>
<circle cx="116.8" cy="298.8" r="1.6" fill="#F06ABA" fill-opacity="0.55"/>
<circle cx="120.6" cy="346.9" r="1.6" fill="#F06ABA" fill-opacity="0.55"/>
<circle cx="92.8" cy="303.5" r="1.6" fill="#F06ABA" fill-opacity="0.55"/>
<circle cx="77.4" cy="413.1" r="1.6" fill="#F06ABA" fill-opacity="0.55"/>
<circle cx="71.4" cy="390.2" r="1.6" fill="#F06ABA" fill-opacity="0.55"/>
<circle cx="112.4" cy="338.1" r="1.6" fill="#F06ABA" fill-opacity="0.55"/>
<circle cx="53.1" cy="350.4" r="1.6" fill="#F06ABA" fill-opacity="0.55"/>
<circle cx="119.2" cy="375.6" r="1.6" fill="#F06ABA" fill-opacity="0.55"/>
<circle cx="101.3" cy="340.2" r="1.6" fill="#F06ABA" fill-opacity="0.55"/>
<circle cx="118.2" cy="365.8" r="1.6" fill="#F06ABA" fill-opacity="0.55"/>
<circle cx="95.6" cy="352.6" r="1.6" fill="#F06ABA" fill-opacity="0.55"/>
<circle cx="230.7" cy="363.3" r="1.6" fill="#F06ABA" fill-opacity="0.55"/>
<circle cx="105.7" cy="329.5" r="1.6" fill="#F06ABA" fill-opacity="0.55"/>
<circle cx="128.9" cy="338.4" r="1.6" fill="#F06ABA" fill-opacity="0.55"/>
<circle cx="99.1" cy="397.9" r="1.6" fill="#F06ABA" fill-opacity="0.55"/>
<circle cx="70.3" cy="332.0" r="1.6" fill="#F06ABA" fill-opacity="0.55"/>
<circle cx="81.5" cy="344.5" r="1.6" fill="#F06ABA" fill-opacity="0.55"/>
<circle cx="92.0" cy="392.4" r="1.6" fill="#F06ABA" fill-opacity="0.55"/>
<circle cx="114.4" cy="348.5" r="1.6" fill="#F06ABA" fill-opacity="0.55"/>
<circle cx="134.6" cy="327.4" r="1.6" fill="#F06ABA" fill-opacity="0.55"/>
<circle cx="113.3" cy="363.3" r="1.6" fill="#F06ABA" fill-opacity="0.55"/>
<circle cx="127.2" cy="363.4" r="1.6" fill="#F06ABA" fill-opacity="0.55"/>
<circle cx="95.5" cy="320.4" r="1.6" fill="#F06ABA" fill-opacity="0.55"/>
<circle cx="100.8" cy="310.4" r="1.6" fill="#F06ABA" fill-opacity="0.55"/>
<circle cx="192.7" cy="391.0" r="1.6" fill="#A85E35" fill-opacity="0.8"/>
<circle cx="102.5" cy="361.0" r="1.6" fill="#F06ABA" fill-opacity="0.55"/>
<circle cx="114.6" cy="351.5" r="1.6" fill="#F06ABA" fill-opacity="0.55"/>
<circle cx="74.2" cy="318.5" r="1.6" fill="#F06ABA" fill-opacity="0.55"/>
<circle cx="116.1" cy="395.7" r="1.6" fill="#F06ABA" fill-opacity="0.55"/>
<circle cx="117.7" cy="342.7" r="1.6" fill="#F06ABA" fill-opacity="0.55"/>
<circle cx="124.2" cy="305.8" r="1.6" fill="#F06ABA" fill-opacity="0.55"/>
<circle cx="125.8" cy="317.4" r="1.6" fill="#F06ABA" fill-opacity="0.55"/>
<circle cx="116.0" cy="345.0" r="1.6" fill="#F06ABA" fill-opacity="0.55"/>
<circle cx="100.8" cy="372.6" r="1.6" fill="#F06ABA" fill-opacity="0.55"/>
<circle cx="82.9" cy="337.7" r="1.6" fill="#F06ABA" fill-opacity="0.55"/>
<circle cx="150.0" cy="331.3" r="1.6" fill="#F06ABA" fill-opacity="0.55"/>
<circle cx="107.7" cy="333.2" r="1.6" fill="#F06ABA" fill-opacity="0.55"/>
<circle cx="98.1" cy="379.8" r="1.6" fill="#F06ABA" fill-opacity="0.55"/>
<circle cx="90.7" cy="318.3" r="1.6" fill="#F06ABA" fill-opacity="0.55"/>
<circle cx="117.4" cy="381.6" r="1.6" fill="#F06ABA" fill-opacity="0.55"/>
<circle cx="60.7" cy="393.1" r="1.6" fill="#F06ABA" fill-opacity="0.55"/>
<circle cx="114.1" cy="347.5" r="1.6" fill="#F06ABA" fill-opacity="0.55"/>
<circle cx="113.6" cy="358.3" r="1.6" fill="#F06ABA" fill-opacity="0.55"/>
<circle cx="120.9" cy="309.0" r="1.6" fill="#F06ABA" fill-opacity="0.55"/>
<circle cx="101.2" cy="315.7" r="1.6" fill="#F06ABA" fill-opacity="0.55"/>
<circle cx="85.0" cy="386.2" r="1.6" fill="#F06ABA" fill-opacity="0.55"/>
<circle cx="106.9" cy="371.5" r="1.6" fill="#F06ABA" fill-opacity="0.55"/>
<circle cx="98.7" cy="368.7" r="1.6" fill="#F06ABA" fill-opacity="0.55"/>
<circle cx="102.9" cy="323.6" r="1.6" fill="#F06ABA" fill-opacity="0.55"/>
<circle cx="118.9" cy="314.2" r="1.6" fill="#F06ABA" fill-opacity="0.55"/>
<circle cx="116.3" cy="362.3" r="1.6" fill="#F06ABA" fill-opacity="0.55"/>
<circle cx="103.9" cy="303.2" r="1.6" fill="#F06ABA" fill-opacity="0.55"/>
<circle cx="130.2" cy="340.9" r="1.6" fill="#F06ABA" fill-opacity="0.55"/>
<circle cx="95.0" cy="366.1" r="1.6" fill="#F06ABA" fill-opacity="0.55"/>
<circle cx="104.2" cy="381.2" r="1.6" fill="#F06ABA" fill-opacity="0.55"/>
<circle cx="66.5" cy="362.1" r="1.6" fill="#F06ABA" fill-opacity="0.55"/>
<circle cx="106.5" cy="343.9" r="1.6" fill="#F06ABA" fill-opacity="0.55"/>
<circle cx="113.1" cy="331.5" r="1.6" fill="#F06ABA" fill-opacity="0.55"/>
<circle cx="84.5" cy="307.6" r="1.6" fill="#F06ABA" fill-opacity="0.55"/>
<circle cx="100.7" cy="362.5" r="1.6" fill="#F06ABA" fill-opacity="0.55"/>
<circle cx="78.7" cy="306.9" r="1.6" fill="#F06ABA" fill-opacity="0.55"/>
</g>
<path d="M50.5 354.2 L55.3 354.1 L60.0 354.1 L64.8 354.0 L69.5 354.0 L74.3 353.9 L79.0 353.7 L83.8 353.6 L88.6 353.3 L93.3 353.0 L98.1 352.6 L102.8 352.1 L107.6 351.6 L112.3 351.0 L117.1 350.4 L121.8 349.7 L126.6 349.0 L131.4 348.3 L136.1 347.6 L140.9 346.9 L145.6 346.2 L150.4 345.4 L155.1 344.7 L159.9 343.9 L164.7 343.2 L169.4 342.4 L174.2 341.7 L178.9 340.9 L183.7 340.1 L188.4 339.4 L193.2 338.6 L197.9 337.8 L202.7 337.1 L207.5 336.3 L212.2 335.5 L217.0 334.8 L221.7 334.0 L226.5 333.2 L231.2 332.5 L236.0 331.7 L236.0 355.7 L231.2 355.7 L226.5 355.7 L221.7 355.7 L217.0 355.6 L212.2 355.6 L207.5 355.6 L202.7 355.6 L197.9 355.6 L193.2 355.6 L188.4 355.6 L183.7 355.6 L178.9 355.5 L174.2 355.5 L169.4 355.5 L164.7 355.5 L159.9 355.5 L155.1 355.5 L150.4 355.5 L145.6 355.6 L140.9 355.6 L136.1 355.6 L131.4 355.6 L126.6 355.7 L121.8 355.8 L117.1 355.8 L112.3 356.0 L107.6 356.1 L102.8 356.4 L98.1 356.6 L93.3 357.0 L88.6 357.5 L83.8 358.0 L79.0 358.5 L74.3 359.2 L69.5 359.8 L64.8 360.5 L60.0 361.2 L55.3 361.9 L50.5 362.6 Z" fill="#a9a9a9" fill-opacity="0.4"/>
<path d="M88.0 347.8 L92.1 350.1 L96.2 352.3 L100.3 354.6 L104.4 356.8 L108.5 358.9 L112.6 361.0 L116.7 363.0 L120.8 364.9 L124.9 366.7 L129.0 368.4 L133.1 370.0 L137.2 371.6 L141.3 373.1 L145.4 374.6 L149.5 376.1 L153.6 377.5 L157.7 379.0 L161.8 380.4 L165.9 381.8 L170.1 383.3 L174.2 384.7 L178.3 386.1 L182.4 387.5 L186.5 388.9 L190.6 390.3 L194.7 391.7 L198.8 393.1 L202.9 394.5 L207.0 395.9 L211.1 397.3 L215.2 398.7 L219.3 400.1 L223.4 401.5 L227.5 402.9 L231.6 404.3 L235.7 405.7 L239.8 407.1 L243.9 408.5 L248.0 409.9 L248.0 440.0 L243.9 437.6 L239.8 435.3 L235.7 433.0 L231.6 430.6 L227.5 428.3 L223.4 426.0 L219.3 423.6 L215.2 421.3 L211.1 419.0 L207.0 416.6 L202.9 414.3 L198.8 412.0 L194.7 409.6 L190.6 407.3 L186.5 405.0 L182.4 402.6 L178.3 400.3 L174.2 398.0 L170.1 395.7 L165.9 393.4 L161.8 391.1 L157.7 388.8 L153.6 386.5 L149.5 384.2 L145.4 382.0 L141.3 379.7 L137.2 377.5 L133.1 375.4 L129.0 373.2 L124.9 371.2 L120.8 369.3 L116.7 367.4 L112.6 365.7 L108.5 364.1 L104.4 362.5 L100.3 360.9 L96.2 359.4 L92.1 357.9 L88.0 356.5 Z" fill="#a9a9a9" fill-opacity="0.4"/>
<line x1="50.5" y1="358.4" x2="236" y2="343.7" stroke="#EE8AC0" stroke-width="1" stroke-dasharray="3.5 3"/>
<line x1="88" y1="352.1" x2="248" y2="424.9" stroke="#8B4A2A" stroke-width="1.1" stroke-dasharray="3.5 3"/>
<path d="M40.4 262.6 V450.1 H251.1" fill="none" stroke="#222" stroke-width="1.1"/>
<line x1="36.6" y1="417.0" x2="40.4" y2="417.0" stroke="#333" stroke-width="1"/>
<text x="34" y="420.3" text-anchor="end" font-family="'Liberation Sans', Arial, sans-serif" font-size="11" fill="#4d4d4d">0.0</text>
<line x1="36.6" y1="366.0" x2="40.4" y2="366.0" stroke="#333" stroke-width="1"/>
<text x="34" y="369.3" text-anchor="end" font-family="'Liberation Sans', Arial, sans-serif" font-size="11" fill="#4d4d4d">0.4</text>
<line x1="36.6" y1="315.0" x2="40.4" y2="315.0" stroke="#333" stroke-width="1"/>
<text x="34" y="318.3" text-anchor="end" font-family="'Liberation Sans', Arial, sans-serif" font-size="11" fill="#4d4d4d">0.8</text>
<line x1="57.3" y1="450.1" x2="57.3" y2="453.9" stroke="#333" stroke-width="1"/>
<text x="57.3" y="464.5" text-anchor="middle" font-family="'Liberation Sans', Arial, sans-serif" font-size="11" fill="#4d4d4d">0.25</text>
<line x1="97.7" y1="450.1" x2="97.7" y2="453.9" stroke="#333" stroke-width="1"/>
<text x="97.7" y="464.5" text-anchor="middle" font-family="'Liberation Sans', Arial, sans-serif" font-size="11" fill="#4d4d4d">1.00</text>
<line x1="138.1" y1="450.1" x2="138.1" y2="453.9" stroke="#333" stroke-width="1"/>
<text x="138.1" y="464.5" text-anchor="middle" font-family="'Liberation Sans', Arial, sans-serif" font-size="11" fill="#4d4d4d">4.00</text>
<line x1="178.4" y1="450.1" x2="178.4" y2="453.9" stroke="#333" stroke-width="1"/>
<text x="178.4" y="464.5" text-anchor="middle" font-family="'Liberation Sans', Arial, sans-serif" font-size="11" fill="#4d4d4d">16.00</text>
<line x1="218.8" y1="450.1" x2="218.8" y2="453.9" stroke="#333" stroke-width="1"/>
<text x="218.8" y="464.5" text-anchor="middle" font-family="'Liberation Sans', Arial, sans-serif" font-size="11" fill="#4d4d4d">64.00</text>
<text x="149.3" y="481.5" text-anchor="middle" font-family="'Liberation Sans', Arial, sans-serif" font-size="14.1" fill="#000" stroke="#000" stroke-width="0.15">Mutations/Mb</text>
<text transform="translate(11.2,356) rotate(-90)" text-anchor="middle" font-family="'Liberation Sans', Arial, sans-serif" font-size="14.3" fill="#000" stroke="#000" stroke-width="0.15">SCNA Score</text>
<rect x="57.2" y="498.3" width="15.6" height="16.7" fill="#e3e3e3"/>
<line x1="58" y1="506.6" x2="71" y2="506.6" stroke="#6e5044" stroke-width="1.1" stroke-dasharray="3.5 1.6"/>
<circle cx="65" cy="506.6" r="1.3" fill="#9C5530" fill-opacity="0.8"/>
<text x="75.3" y="511" font-family="'Liberation Sans', Arial, sans-serif" font-size="11.6" fill="#000">Colon adenocarcinoma</text>
<rect x="195.2" y="498.3" width="15.6" height="16.7" fill="#e3e3e3"/>
<line x1="196" y1="506.6" x2="209" y2="506.6" stroke="#EE8AC0" stroke-width="1.1" stroke-dasharray="3.5 1.6"/>
<circle cx="203" cy="506.6" r="1.3" fill="#EE72B8" fill-opacity="0.7"/>
<text x="213.7" y="511" font-family="'Liberation Sans', Arial, sans-serif" font-size="11.7" fill="#000">Breast</text>
<text x="270.5" y="275.1" font-family="'Liberation Sans', Arial, sans-serif" font-weight="bold" font-size="13.2" stroke="#000" stroke-width="0.35">D</text>
<text x="408.9" y="282.6" text-anchor="middle" font-family="'Liberation Sans', Arial, sans-serif" font-weight="bold" font-size="14.6" fill="#000">SNP/Methylation QTL</text>
<rect x="299.3" y="288.4" width="218.6" height="183.6" fill="none" stroke="#333" stroke-width="1"/>
<line x1="292.8" y1="449.0" x2="299.3" y2="449.0" stroke="#333" stroke-width="1"/>
<text transform="translate(286,449.0) rotate(-90)" text-anchor="middle" font-family="'Liberation Sans', Arial, sans-serif" font-size="9" fill="#000" stroke="#000" stroke-width="0.1">-2</text>
<line x1="292.8" y1="410.3" x2="299.3" y2="410.3" stroke="#333" stroke-width="1"/>
<text transform="translate(286,410.3) rotate(-90)" text-anchor="middle" font-family="'Liberation Sans', Arial, sans-serif" font-size="9" fill="#000" stroke="#000" stroke-width="0.1">-1</text>
<line x1="292.8" y1="371.6" x2="299.3" y2="371.6" stroke="#333" stroke-width="1"/>
<text transform="translate(286,371.6) rotate(-90)" text-anchor="middle" font-family="'Liberation Sans', Arial, sans-serif" font-size="9" fill="#000" stroke="#000" stroke-width="0.1">0</text>
<line x1="292.8" y1="332.9" x2="299.3" y2="332.9" stroke="#333" stroke-width="1"/>
<text transform="translate(286,332.9) rotate(-90)" text-anchor="middle" font-family="'Liberation Sans', Arial, sans-serif" font-size="9" fill="#000" stroke="#000" stroke-width="0.1">1</text>
<line x1="292.8" y1="294.2" x2="299.3" y2="294.2" stroke="#333" stroke-width="1"/>
<text transform="translate(286,294.2) rotate(-90)" text-anchor="middle" font-family="'Liberation Sans', Arial, sans-serif" font-size="9" fill="#000" stroke="#000" stroke-width="0.1">2</text>
<line x1="341.3" y1="472" x2="341.3" y2="477.6" stroke="#333" stroke-width="1"/>
<text x="341.3" y="493.7" text-anchor="middle" font-family="'Liberation Sans', Arial, sans-serif" font-size="9" fill="#000" stroke="#000" stroke-width="0.12">A/A</text>
<line x1="409" y1="472" x2="409" y2="477.6" stroke="#333" stroke-width="1"/>
<text x="409" y="493.7" text-anchor="middle" font-family="'Liberation Sans', Arial, sans-serif" font-size="9" fill="#000" stroke="#000" stroke-width="0.12">A/B</text>
<line x1="476.6" y1="472" x2="476.6" y2="477.6" stroke="#333" stroke-width="1"/>
<text x="476.6" y="493.7" text-anchor="middle" font-family="'Liberation Sans', Arial, sans-serif" font-size="9" fill="#000" stroke="#000" stroke-width="0.12">B/B</text>
<text x="408.4" y="510" text-anchor="middle" font-family="'Liberation Sans', Arial, sans-serif" font-size="14" fill="#000" stroke="#000" stroke-width="0.12">rs9273481</text>
<text transform="translate(270.6,380.5) rotate(-90)" text-anchor="middle" font-family="'Liberation Sans', Arial, sans-serif" font-size="14.5" fill="#000" stroke="#000" stroke-width="0.12">cg04793911</text>
<line x1="341.3" y1="368.5" x2="341.3" y2="387.4" stroke="#333" stroke-width="0.9" stroke-dasharray="3 2"/>
<line x1="341.3" y1="426.7" x2="341.3" y2="464.3" stroke="#333" stroke-width="0.9" stroke-dasharray="3 2"/>
<line x1="327.8" y1="368.5" x2="354.8" y2="368.5" stroke="#333" stroke-width="0.9"/>
<line x1="327.8" y1="464.3" x2="354.8" y2="464.3" stroke="#333" stroke-width="0.9"/>
<rect x="314.1" y="387.4" width="54.4" height="39.3" fill="#fff" stroke="#333" stroke-width="0.9"/>
<line x1="314.1" y1="407.6" x2="368.5" y2="407.6" stroke="#000" stroke-width="2.2"/>
<circle cx="341.4" cy="368.5" r="2.15" fill="#eeeeee" fill-opacity="0.5" stroke="#222" stroke-width="0.95"/>
<circle cx="341.4" cy="373.5" r="2.15" fill="#eeeeee" fill-opacity="0.5" stroke="#222" stroke-width="0.95"/>
<circle cx="346.3" cy="373.5" r="2.15" fill="#eeeeee" fill-opacity="0.5" stroke="#222" stroke-width="0.95"/>
<circle cx="336.7" cy="387.4" r="2.15" fill="#eeeeee" fill-opacity="0.5" stroke="#222" stroke-width="0.95"/>
<circle cx="341.6" cy="387.8" r="2.15" fill="#eeeeee" fill-opacity="0.5" stroke="#222" stroke-width="0.95"/>
<circle cx="346.3" cy="387.4" r="2.15" fill="#eeeeee" fill-opacity="0.5" stroke="#222" stroke-width="0.95"/>
<circle cx="343.1" cy="396.3" r="2.15" fill="#eeeeee" fill-opacity="0.5" stroke="#222" stroke-width="0.95"/>
<circle cx="341.4" cy="400.6" r="2.15" fill="#eeeeee" fill-opacity="0.5" stroke="#222" stroke-width="0.95"/>
<circle cx="339.3" cy="415.1" r="2.15" fill="#eeeeee" fill-opacity="0.5" stroke="#222" stroke-width="0.95"/>
<circle cx="344.2" cy="416" r="2.15" fill="#eeeeee" fill-opacity="0.5" stroke="#222" stroke-width="0.95"/>
<circle cx="341.4" cy="419.8" r="2.15" fill="#eeeeee" fill-opacity="0.5" stroke="#222" stroke-width="0.95"/>
<circle cx="338.8" cy="426.2" r="2.15" fill="#eeeeee" fill-opacity="0.5" stroke="#222" stroke-width="0.95"/>
<circle cx="344.2" cy="426.9" r="2.15" fill="#eeeeee" fill-opacity="0.5" stroke="#222" stroke-width="0.95"/>
<circle cx="341" cy="430" r="2.15" fill="#eeeeee" fill-opacity="0.5" stroke="#222" stroke-width="0.95"/>
<circle cx="341.4" cy="438" r="2.15" fill="#eeeeee" fill-opacity="0.5" stroke="#222" stroke-width="0.95"/>
<circle cx="341.4" cy="464.3" r="2.15" fill="#eeeeee" fill-opacity="0.5" stroke="#222" stroke-width="0.95"/>
<line x1="409" y1="340.3" x2="409" y2="352.9" stroke="#333" stroke-width="0.9" stroke-dasharray="3 2"/>
<line x1="409" y1="390.3" x2="409" y2="430.1" stroke="#333" stroke-width="0.9" stroke-dasharray="3 2"/>
<line x1="395.5" y1="340.3" x2="422.5" y2="340.3" stroke="#333" stroke-width="0.9"/>
<line x1="395.5" y1="430.1" x2="422.5" y2="430.1" stroke="#333" stroke-width="0.9"/>
<rect x="381.8" y="352.9" width="54.4" height="37.4" fill="#fff" stroke="#333" stroke-width="0.9"/>
<line x1="381.8" y1="371.7" x2="436.2" y2="371.7" stroke="#000" stroke-width="2.2"/>
<circle cx="400" cy="340.3" r="2.15" fill="#eeeeee" fill-opacity="0.5" stroke="#222" stroke-width="0.95"/>
<circle cx="404.7" cy="342.4" r="2.15" fill="#eeeeee" fill-opacity="0.5" stroke="#222" stroke-width="0.95"/>
<circle cx="410.1" cy="342.8" r="2.15" fill="#eeeeee" fill-opacity="0.5" stroke="#222" stroke-width="0.95"/>
<circle cx="416" cy="342.2" r="2.15" fill="#eeeeee" fill-opacity="0.5" stroke="#222" stroke-width="0.95"/>
<circle cx="406.4" cy="346.7" r="2.15" fill="#eeeeee" fill-opacity="0.5" stroke="#222" stroke-width="0.95"/>
<circle cx="411.6" cy="346.7" r="2.15" fill="#eeeeee" fill-opacity="0.5" stroke="#222" stroke-width="0.95"/>
<circle cx="410.1" cy="350.3" r="2.15" fill="#eeeeee" fill-opacity="0.5" stroke="#222" stroke-width="0.95"/>
<circle cx="409.4" cy="353.5" r="2.15" fill="#eeeeee" fill-opacity="0.5" stroke="#222" stroke-width="0.95"/>
<circle cx="416" cy="352.9" r="2.15" fill="#eeeeee" fill-opacity="0.5" stroke="#222" stroke-width="0.95"/>
<circle cx="404.7" cy="356.7" r="2.15" fill="#eeeeee" fill-opacity="0.5" stroke="#222" stroke-width="0.95"/>
<circle cx="410.7" cy="356.1" r="2.15" fill="#eeeeee" fill-opacity="0.5" stroke="#222" stroke-width="0.95"/>
<circle cx="409" cy="358.4" r="2.15" fill="#eeeeee" fill-opacity="0.5" stroke="#222" stroke-width="0.95"/>
<circle cx="413.3" cy="357.4" r="2.15" fill="#eeeeee" fill-opacity="0.5" stroke="#222" stroke-width="0.95"/>
<circle cx="409.4" cy="368" r="2.15" fill="#eeeeee" fill-opacity="0.5" stroke="#222" stroke-width="0.95"/>
<circle cx="404.7" cy="372.8" r="2.15" fill="#eeeeee" fill-opacity="0.5" stroke="#222" stroke-width="0.95"/>
<circle cx="410.1" cy="374.5" r="2.15" fill="#eeeeee" fill-opacity="0.5" stroke="#222" stroke-width="0.95"/>
<circle cx="417.1" cy="370.2" r="2.15" fill="#eeeeee" fill-opacity="0.5" stroke="#222" stroke-width="0.95"/>
<circle cx="412.6" cy="380.5" r="2.15" fill="#eeeeee" fill-opacity="0.5" stroke="#222" stroke-width="0.95"/>
<circle cx="407.5" cy="381.7" r="2.15" fill="#eeeeee" fill-opacity="0.5" stroke="#222" stroke-width="0.95"/>
<circle cx="409.4" cy="386.7" r="2.15" fill="#eeeeee" fill-opacity="0.5" stroke="#222" stroke-width="0.95"/>
<circle cx="405.8" cy="389.9" r="2.15" fill="#eeeeee" fill-opacity="0.5" stroke="#222" stroke-width="0.95"/>
<circle cx="411.8" cy="393.1" r="2.15" fill="#eeeeee" fill-opacity="0.5" stroke="#222" stroke-width="0.95"/>
<circle cx="409" cy="398.4" r="2.15" fill="#eeeeee" fill-opacity="0.5" stroke="#222" stroke-width="0.95"/>
<circle cx="413.3" cy="398.8" r="2.15" fill="#eeeeee" fill-opacity="0.5" stroke="#222" stroke-width="0.95"/>
<circle cx="408.6" cy="424" r="2.15" fill="#eeeeee" fill-opacity="0.5" stroke="#222" stroke-width="0.95"/>
<circle cx="409" cy="430.1" r="2.15" fill="#eeeeee" fill-opacity="0.5" stroke="#222" stroke-width="0.95"/>
<line x1="476.6" y1="297" x2="476.6" y2="314.4" stroke="#333" stroke-width="0.9" stroke-dasharray="3 2"/>
<line x1="476.6" y1="337.1" x2="476.6" y2="340.3" stroke="#333" stroke-width="0.9" stroke-dasharray="3 2"/>
<line x1="463.1" y1="297" x2="490.1" y2="297" stroke="#333" stroke-width="0.9"/>
<line x1="463.1" y1="340.3" x2="490.1" y2="340.3" stroke="#333" stroke-width="0.9"/>
<rect x="449.40000000000003" y="314.4" width="54.4" height="22.7" fill="#fff" stroke="#333" stroke-width="0.9"/>
<line x1="449.40000000000003" y1="331.3" x2="503.8" y2="331.3" stroke="#000" stroke-width="2.2"/>
<circle cx="476.6" cy="296.7" r="2.15" fill="#eeeeee" fill-opacity="0.5" stroke="#222" stroke-width="0.95"/>
<circle cx="476.6" cy="304.2" r="2.15" fill="#eeeeee" fill-opacity="0.5" stroke="#222" stroke-width="0.95"/>
<circle cx="480.6" cy="314.4" r="2.15" fill="#eeeeee" fill-opacity="0.5" stroke="#222" stroke-width="0.95"/>
<circle cx="476.2" cy="316" r="2.15" fill="#eeeeee" fill-opacity="0.5" stroke="#222" stroke-width="0.95"/>
<circle cx="473.8" cy="331.1" r="2.15" fill="#eeeeee" fill-opacity="0.5" stroke="#222" stroke-width="0.95"/>
<circle cx="480.6" cy="330.5" r="2.15" fill="#eeeeee" fill-opacity="0.5" stroke="#222" stroke-width="0.95"/>
<circle cx="477.4" cy="334.2" r="2.15" fill="#eeeeee" fill-opacity="0.5" stroke="#222" stroke-width="0.95"/>
<circle cx="473.8" cy="336.8" r="2.15" fill="#eeeeee" fill-opacity="0.5" stroke="#222" stroke-width="0.95"/>
<circle cx="476.3" cy="340.6" r="2.15" fill="#eeeeee" fill-opacity="0.5" stroke="#222" stroke-width="0.95"/>
<circle cx="481" cy="339.3" r="2.15" fill="#eeeeee" fill-opacity="0.5" stroke="#222" stroke-width="0.95"/>
</svg>
</body></html>
